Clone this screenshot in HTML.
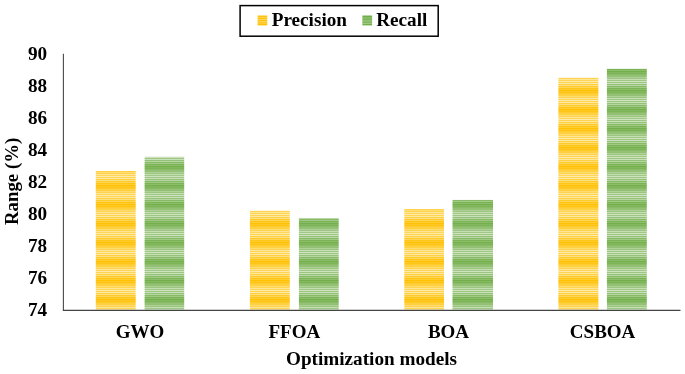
<!DOCTYPE html>
<html><head><meta charset="utf-8"><title>Precision and Recall</title>
<style>
html,body{margin:0;padding:0;background:#fff;}
body{width:685px;height:374px;overflow:hidden;}
svg{display:block}
text{font-family:"Liberation Serif",serif;font-weight:bold;font-size:19.2px;fill:#000;}
.cat text{font-size:19px;}
</style></head><body>
<svg width="685" height="374" viewBox="0 0 685 374">
<rect width="685" height="374" fill="#fff"/>
<g>
<g><rect x="95.8" y="171.00" width="39.9" height="1.00" fill="rgb(255,208,63)"/>
<rect x="95.8" y="172.00" width="39.9" height="1.00" fill="rgb(255,220,112)"/>
<rect x="95.8" y="173.00" width="39.9" height="1.00" fill="rgb(255,211,78)"/>
<rect x="95.8" y="174.00" width="39.9" height="1.00" fill="rgb(255,229,151)"/>
<rect x="95.8" y="175.00" width="39.9" height="1.00" fill="rgb(255,213,85)"/>
<rect x="95.8" y="176.00" width="39.9" height="1.00" fill="rgb(255,234,169)"/>
<rect x="95.8" y="177.00" width="39.9" height="1.00" fill="rgb(255,212,81)"/>
<rect x="95.8" y="178.00" width="39.9" height="1.00" fill="rgb(255,232,160)"/>
<rect x="95.8" y="179.00" width="39.9" height="1.00" fill="rgb(255,208,65)"/>
<rect x="95.8" y="180.00" width="39.9" height="1.00" fill="rgb(255,224,129)"/>
<rect x="95.8" y="181.00" width="39.9" height="1.00" fill="rgb(255,203,43)"/>
<rect x="95.8" y="182.00" width="39.9" height="1.00" fill="rgb(255,213,87)"/>
<rect x="95.8" y="183.00" width="39.9" height="1.00" fill="rgb(255,197,20)"/>
<rect x="95.8" y="184.00" width="39.9" height="1.00" fill="rgb(255,204,49)"/>
<rect x="95.8" y="185.00" width="39.9" height="1.00" fill="rgb(255,193,6)"/>
<rect x="95.8" y="186.00" width="39.9" height="1.00" fill="rgb(255,200,34)"/>
<rect x="95.8" y="187.00" width="39.9" height="1.00" fill="rgb(255,197,22)"/>
<rect x="95.8" y="188.00" width="39.9" height="1.00" fill="rgb(255,203,46)"/>
<rect x="95.8" y="189.00" width="39.9" height="1.00" fill="rgb(255,208,64)"/>
<rect x="95.8" y="190.00" width="39.9" height="1.00" fill="rgb(255,208,63)"/>
<rect x="95.8" y="191.00" width="39.9" height="1.00" fill="rgb(255,220,112)"/>
<rect x="95.8" y="192.00" width="39.9" height="1.00" fill="rgb(255,211,78)"/>
<rect x="95.8" y="193.00" width="39.9" height="1.00" fill="rgb(255,229,151)"/>
<rect x="95.8" y="194.00" width="39.9" height="1.00" fill="rgb(255,213,85)"/>
<rect x="95.8" y="195.00" width="39.9" height="1.00" fill="rgb(255,234,169)"/>
<rect x="95.8" y="196.00" width="39.9" height="1.00" fill="rgb(255,212,81)"/>
<rect x="95.8" y="197.00" width="39.9" height="1.00" fill="rgb(255,232,160)"/>
<rect x="95.8" y="198.00" width="39.9" height="1.00" fill="rgb(255,208,65)"/>
<rect x="95.8" y="199.00" width="39.9" height="1.00" fill="rgb(255,224,129)"/>
<rect x="95.8" y="200.00" width="39.9" height="1.00" fill="rgb(255,203,43)"/>
<rect x="95.8" y="201.00" width="39.9" height="1.00" fill="rgb(255,213,87)"/>
<rect x="95.8" y="202.00" width="39.9" height="1.00" fill="rgb(255,197,20)"/>
<rect x="95.8" y="203.00" width="39.9" height="1.00" fill="rgb(255,204,49)"/>
<rect x="95.8" y="204.00" width="39.9" height="1.00" fill="rgb(255,193,6)"/>
<rect x="95.8" y="205.00" width="39.9" height="1.00" fill="rgb(255,200,34)"/>
<rect x="95.8" y="206.00" width="39.9" height="1.00" fill="rgb(255,197,22)"/>
<rect x="95.8" y="207.00" width="39.9" height="1.00" fill="rgb(255,203,46)"/>
<rect x="95.8" y="208.00" width="39.9" height="1.00" fill="rgb(255,208,64)"/>
<rect x="95.8" y="209.00" width="39.9" height="1.00" fill="rgb(255,208,63)"/>
<rect x="95.8" y="210.00" width="39.9" height="1.00" fill="rgb(255,220,112)"/>
<rect x="95.8" y="211.00" width="39.9" height="1.00" fill="rgb(255,211,78)"/>
<rect x="95.8" y="212.00" width="39.9" height="1.00" fill="rgb(255,229,151)"/>
<rect x="95.8" y="213.00" width="39.9" height="1.00" fill="rgb(255,213,85)"/>
<rect x="95.8" y="214.00" width="39.9" height="1.00" fill="rgb(255,234,169)"/>
<rect x="95.8" y="215.00" width="39.9" height="1.00" fill="rgb(255,212,81)"/>
<rect x="95.8" y="216.00" width="39.9" height="1.00" fill="rgb(255,232,160)"/>
<rect x="95.8" y="217.00" width="39.9" height="1.00" fill="rgb(255,208,65)"/>
<rect x="95.8" y="218.00" width="39.9" height="1.00" fill="rgb(255,224,129)"/>
<rect x="95.8" y="219.00" width="39.9" height="1.00" fill="rgb(255,203,43)"/>
<rect x="95.8" y="220.00" width="39.9" height="1.00" fill="rgb(255,213,87)"/>
<rect x="95.8" y="221.00" width="39.9" height="1.00" fill="rgb(255,197,20)"/>
<rect x="95.8" y="222.00" width="39.9" height="1.00" fill="rgb(255,204,49)"/>
<rect x="95.8" y="223.00" width="39.9" height="1.00" fill="rgb(255,193,6)"/>
<rect x="95.8" y="224.00" width="39.9" height="1.00" fill="rgb(255,200,34)"/>
<rect x="95.8" y="225.00" width="39.9" height="1.00" fill="rgb(255,197,22)"/>
<rect x="95.8" y="226.00" width="39.9" height="1.00" fill="rgb(255,203,46)"/>
<rect x="95.8" y="227.00" width="39.9" height="1.00" fill="rgb(255,208,64)"/>
<rect x="95.8" y="228.00" width="39.9" height="1.00" fill="rgb(255,208,63)"/>
<rect x="95.8" y="229.00" width="39.9" height="1.00" fill="rgb(255,220,112)"/>
<rect x="95.8" y="230.00" width="39.9" height="1.00" fill="rgb(255,211,78)"/>
<rect x="95.8" y="231.00" width="39.9" height="1.00" fill="rgb(255,229,151)"/>
<rect x="95.8" y="232.00" width="39.9" height="1.00" fill="rgb(255,213,85)"/>
<rect x="95.8" y="233.00" width="39.9" height="1.00" fill="rgb(255,234,169)"/>
<rect x="95.8" y="234.00" width="39.9" height="1.00" fill="rgb(255,212,81)"/>
<rect x="95.8" y="235.00" width="39.9" height="1.00" fill="rgb(255,232,160)"/>
<rect x="95.8" y="236.00" width="39.9" height="1.00" fill="rgb(255,208,65)"/>
<rect x="95.8" y="237.00" width="39.9" height="1.00" fill="rgb(255,224,129)"/>
<rect x="95.8" y="238.00" width="39.9" height="1.00" fill="rgb(255,203,43)"/>
<rect x="95.8" y="239.00" width="39.9" height="1.00" fill="rgb(255,213,87)"/>
<rect x="95.8" y="240.00" width="39.9" height="1.00" fill="rgb(255,197,20)"/>
<rect x="95.8" y="241.00" width="39.9" height="1.00" fill="rgb(255,204,49)"/>
<rect x="95.8" y="242.00" width="39.9" height="1.00" fill="rgb(255,193,6)"/>
<rect x="95.8" y="243.00" width="39.9" height="1.00" fill="rgb(255,200,34)"/>
<rect x="95.8" y="244.00" width="39.9" height="1.00" fill="rgb(255,197,22)"/>
<rect x="95.8" y="245.00" width="39.9" height="1.00" fill="rgb(255,203,45)"/>
<rect x="95.8" y="246.00" width="39.9" height="1.00" fill="rgb(255,208,64)"/>
<rect x="95.8" y="247.00" width="39.9" height="1.00" fill="rgb(255,208,63)"/>
<rect x="95.8" y="248.00" width="39.9" height="1.00" fill="rgb(255,220,112)"/>
<rect x="95.8" y="249.00" width="39.9" height="1.00" fill="rgb(255,211,78)"/>
<rect x="95.8" y="250.00" width="39.9" height="1.00" fill="rgb(255,229,151)"/>
<rect x="95.8" y="251.00" width="39.9" height="1.00" fill="rgb(255,213,85)"/>
<rect x="95.8" y="252.00" width="39.9" height="1.00" fill="rgb(255,234,169)"/>
<rect x="95.8" y="253.00" width="39.9" height="1.00" fill="rgb(255,212,81)"/>
<rect x="95.8" y="254.00" width="39.9" height="1.00" fill="rgb(255,232,160)"/>
<rect x="95.8" y="255.00" width="39.9" height="1.00" fill="rgb(255,208,65)"/>
<rect x="95.8" y="256.00" width="39.9" height="1.00" fill="rgb(255,224,129)"/>
<rect x="95.8" y="257.00" width="39.9" height="1.00" fill="rgb(255,203,43)"/>
<rect x="95.8" y="258.00" width="39.9" height="1.00" fill="rgb(255,213,87)"/>
<rect x="95.8" y="259.00" width="39.9" height="1.00" fill="rgb(255,197,20)"/>
<rect x="95.8" y="260.00" width="39.9" height="1.00" fill="rgb(255,204,49)"/>
<rect x="95.8" y="261.00" width="39.9" height="1.00" fill="rgb(255,193,6)"/>
<rect x="95.8" y="262.00" width="39.9" height="1.00" fill="rgb(255,200,34)"/>
<rect x="95.8" y="263.00" width="39.9" height="1.00" fill="rgb(255,197,22)"/>
<rect x="95.8" y="264.00" width="39.9" height="1.00" fill="rgb(255,203,45)"/>
<rect x="95.8" y="265.00" width="39.9" height="1.00" fill="rgb(255,208,64)"/>
<rect x="95.8" y="266.00" width="39.9" height="1.00" fill="rgb(255,208,63)"/>
<rect x="95.8" y="267.00" width="39.9" height="1.00" fill="rgb(255,220,112)"/>
<rect x="95.8" y="268.00" width="39.9" height="1.00" fill="rgb(255,211,78)"/>
<rect x="95.8" y="269.00" width="39.9" height="1.00" fill="rgb(255,229,151)"/>
<rect x="95.8" y="270.00" width="39.9" height="1.00" fill="rgb(255,213,85)"/>
<rect x="95.8" y="271.00" width="39.9" height="1.00" fill="rgb(255,234,169)"/>
<rect x="95.8" y="272.00" width="39.9" height="1.00" fill="rgb(255,212,81)"/>
<rect x="95.8" y="273.00" width="39.9" height="1.00" fill="rgb(255,232,160)"/>
<rect x="95.8" y="274.00" width="39.9" height="1.00" fill="rgb(255,208,65)"/>
<rect x="95.8" y="275.00" width="39.9" height="1.00" fill="rgb(255,224,129)"/>
<rect x="95.8" y="276.00" width="39.9" height="1.00" fill="rgb(255,203,43)"/>
<rect x="95.8" y="277.00" width="39.9" height="1.00" fill="rgb(255,213,87)"/>
<rect x="95.8" y="278.00" width="39.9" height="1.00" fill="rgb(255,197,20)"/>
<rect x="95.8" y="279.00" width="39.9" height="1.00" fill="rgb(255,204,49)"/>
<rect x="95.8" y="280.00" width="39.9" height="1.00" fill="rgb(255,193,6)"/>
<rect x="95.8" y="281.00" width="39.9" height="1.00" fill="rgb(255,200,34)"/>
<rect x="95.8" y="282.00" width="39.9" height="1.00" fill="rgb(255,197,22)"/>
<rect x="95.8" y="283.00" width="39.9" height="1.00" fill="rgb(255,203,45)"/>
<rect x="95.8" y="284.00" width="39.9" height="1.00" fill="rgb(255,208,64)"/>
<rect x="95.8" y="285.00" width="39.9" height="1.00" fill="rgb(255,208,63)"/>
<rect x="95.8" y="286.00" width="39.9" height="1.00" fill="rgb(255,220,112)"/>
<rect x="95.8" y="287.00" width="39.9" height="1.00" fill="rgb(255,211,78)"/>
<rect x="95.8" y="288.00" width="39.9" height="1.00" fill="rgb(255,229,151)"/>
<rect x="95.8" y="289.00" width="39.9" height="1.00" fill="rgb(255,213,85)"/>
<rect x="95.8" y="290.00" width="39.9" height="1.00" fill="rgb(255,234,169)"/>
<rect x="95.8" y="291.00" width="39.9" height="1.00" fill="rgb(255,212,81)"/>
<rect x="95.8" y="292.00" width="39.9" height="1.00" fill="rgb(255,232,160)"/>
<rect x="95.8" y="293.00" width="39.9" height="1.00" fill="rgb(255,208,65)"/>
<rect x="95.8" y="294.00" width="39.9" height="1.00" fill="rgb(255,224,129)"/>
<rect x="95.8" y="295.00" width="39.9" height="1.00" fill="rgb(255,203,43)"/>
<rect x="95.8" y="296.00" width="39.9" height="1.00" fill="rgb(255,213,87)"/>
<rect x="95.8" y="297.00" width="39.9" height="1.00" fill="rgb(255,197,20)"/>
<rect x="95.8" y="298.00" width="39.9" height="1.00" fill="rgb(255,204,49)"/>
<rect x="95.8" y="299.00" width="39.9" height="1.00" fill="rgb(255,193,6)"/>
<rect x="95.8" y="300.00" width="39.9" height="1.00" fill="rgb(255,200,34)"/>
<rect x="95.8" y="301.00" width="39.9" height="1.00" fill="rgb(255,197,22)"/>
<rect x="95.8" y="302.00" width="39.9" height="1.00" fill="rgb(255,203,45)"/>
<rect x="95.8" y="303.00" width="39.9" height="1.00" fill="rgb(255,208,64)"/>
<rect x="95.8" y="304.00" width="39.9" height="1.00" fill="rgb(255,208,63)"/>
<rect x="95.8" y="305.00" width="39.9" height="1.00" fill="rgb(255,220,112)"/>
<rect x="95.8" y="306.00" width="39.9" height="1.00" fill="rgb(255,211,78)"/>
<rect x="95.8" y="307.00" width="39.9" height="1.00" fill="rgb(255,229,151)"/>
<rect x="95.8" y="308.00" width="39.9" height="1.00" fill="rgb(255,213,85)"/>
<rect x="95.8" y="309.00" width="39.9" height="1.00" fill="rgb(255,234,169)"/></g>
<g><rect x="144.6" y="156.80" width="39.6" height="0.20" fill="rgb(160,200,133)"/>
<rect x="144.6" y="157.00" width="39.6" height="1.00" fill="rgb(207,227,193)"/>
<rect x="144.6" y="158.00" width="39.6" height="1.00" fill="rgb(157,199,129)"/>
<rect x="144.6" y="159.00" width="39.6" height="1.00" fill="rgb(202,224,187)"/>
<rect x="144.6" y="160.00" width="39.6" height="1.00" fill="rgb(148,194,118)"/>
<rect x="144.6" y="161.00" width="39.6" height="1.00" fill="rgb(184,214,164)"/>
<rect x="144.6" y="162.00" width="39.6" height="1.00" fill="rgb(136,187,102)"/>
<rect x="144.6" y="163.00" width="39.6" height="1.00" fill="rgb(161,201,134)"/>
<rect x="144.6" y="164.00" width="39.6" height="1.00" fill="rgb(123,179,85)"/>
<rect x="144.6" y="165.00" width="39.6" height="1.00" fill="rgb(140,189,106)"/>
<rect x="144.6" y="166.00" width="39.6" height="1.00" fill="rgb(115,175,75)"/>
<rect x="144.6" y="167.00" width="39.6" height="1.00" fill="rgb(131,184,95)"/>
<rect x="144.6" y="168.00" width="39.6" height="1.00" fill="rgb(124,180,87)"/>
<rect x="144.6" y="169.00" width="39.6" height="1.00" fill="rgb(138,188,104)"/>
<rect x="144.6" y="170.00" width="39.6" height="1.00" fill="rgb(148,193,117)"/>
<rect x="144.6" y="171.00" width="39.6" height="1.00" fill="rgb(147,193,116)"/>
<rect x="144.6" y="172.00" width="39.6" height="1.00" fill="rgb(175,209,152)"/>
<rect x="144.6" y="173.00" width="39.6" height="1.00" fill="rgb(156,198,128)"/>
<rect x="144.6" y="174.00" width="39.6" height="1.00" fill="rgb(197,222,180)"/>
<rect x="144.6" y="175.00" width="39.6" height="1.00" fill="rgb(160,200,133)"/>
<rect x="144.6" y="176.00" width="39.6" height="1.00" fill="rgb(207,227,193)"/>
<rect x="144.6" y="177.00" width="39.6" height="1.00" fill="rgb(157,199,129)"/>
<rect x="144.6" y="178.00" width="39.6" height="1.00" fill="rgb(202,224,187)"/>
<rect x="144.6" y="179.00" width="39.6" height="1.00" fill="rgb(148,194,118)"/>
<rect x="144.6" y="180.00" width="39.6" height="1.00" fill="rgb(184,214,164)"/>
<rect x="144.6" y="181.00" width="39.6" height="1.00" fill="rgb(136,187,102)"/>
<rect x="144.6" y="182.00" width="39.6" height="1.00" fill="rgb(161,201,134)"/>
<rect x="144.6" y="183.00" width="39.6" height="1.00" fill="rgb(123,179,85)"/>
<rect x="144.6" y="184.00" width="39.6" height="1.00" fill="rgb(140,189,106)"/>
<rect x="144.6" y="185.00" width="39.6" height="1.00" fill="rgb(115,175,75)"/>
<rect x="144.6" y="186.00" width="39.6" height="1.00" fill="rgb(131,184,95)"/>
<rect x="144.6" y="187.00" width="39.6" height="1.00" fill="rgb(124,180,87)"/>
<rect x="144.6" y="188.00" width="39.6" height="1.00" fill="rgb(138,188,104)"/>
<rect x="144.6" y="189.00" width="39.6" height="1.00" fill="rgb(148,193,117)"/>
<rect x="144.6" y="190.00" width="39.6" height="1.00" fill="rgb(147,193,116)"/>
<rect x="144.6" y="191.00" width="39.6" height="1.00" fill="rgb(175,209,152)"/>
<rect x="144.6" y="192.00" width="39.6" height="1.00" fill="rgb(156,198,128)"/>
<rect x="144.6" y="193.00" width="39.6" height="1.00" fill="rgb(197,222,180)"/>
<rect x="144.6" y="194.00" width="39.6" height="1.00" fill="rgb(160,200,133)"/>
<rect x="144.6" y="195.00" width="39.6" height="1.00" fill="rgb(207,227,193)"/>
<rect x="144.6" y="196.00" width="39.6" height="1.00" fill="rgb(157,199,129)"/>
<rect x="144.6" y="197.00" width="39.6" height="1.00" fill="rgb(202,224,187)"/>
<rect x="144.6" y="198.00" width="39.6" height="1.00" fill="rgb(148,194,118)"/>
<rect x="144.6" y="199.00" width="39.6" height="1.00" fill="rgb(184,214,164)"/>
<rect x="144.6" y="200.00" width="39.6" height="1.00" fill="rgb(136,187,102)"/>
<rect x="144.6" y="201.00" width="39.6" height="1.00" fill="rgb(161,201,134)"/>
<rect x="144.6" y="202.00" width="39.6" height="1.00" fill="rgb(123,179,85)"/>
<rect x="144.6" y="203.00" width="39.6" height="1.00" fill="rgb(140,189,106)"/>
<rect x="144.6" y="204.00" width="39.6" height="1.00" fill="rgb(115,175,75)"/>
<rect x="144.6" y="205.00" width="39.6" height="1.00" fill="rgb(131,184,95)"/>
<rect x="144.6" y="206.00" width="39.6" height="1.00" fill="rgb(124,180,87)"/>
<rect x="144.6" y="207.00" width="39.6" height="1.00" fill="rgb(138,188,104)"/>
<rect x="144.6" y="208.00" width="39.6" height="1.00" fill="rgb(148,193,117)"/>
<rect x="144.6" y="209.00" width="39.6" height="1.00" fill="rgb(147,193,116)"/>
<rect x="144.6" y="210.00" width="39.6" height="1.00" fill="rgb(175,209,152)"/>
<rect x="144.6" y="211.00" width="39.6" height="1.00" fill="rgb(156,198,128)"/>
<rect x="144.6" y="212.00" width="39.6" height="1.00" fill="rgb(197,222,180)"/>
<rect x="144.6" y="213.00" width="39.6" height="1.00" fill="rgb(160,200,133)"/>
<rect x="144.6" y="214.00" width="39.6" height="1.00" fill="rgb(207,227,193)"/>
<rect x="144.6" y="215.00" width="39.6" height="1.00" fill="rgb(157,199,129)"/>
<rect x="144.6" y="216.00" width="39.6" height="1.00" fill="rgb(202,224,187)"/>
<rect x="144.6" y="217.00" width="39.6" height="1.00" fill="rgb(148,194,118)"/>
<rect x="144.6" y="218.00" width="39.6" height="1.00" fill="rgb(184,214,164)"/>
<rect x="144.6" y="219.00" width="39.6" height="1.00" fill="rgb(136,187,102)"/>
<rect x="144.6" y="220.00" width="39.6" height="1.00" fill="rgb(161,201,134)"/>
<rect x="144.6" y="221.00" width="39.6" height="1.00" fill="rgb(123,179,85)"/>
<rect x="144.6" y="222.00" width="39.6" height="1.00" fill="rgb(140,189,106)"/>
<rect x="144.6" y="223.00" width="39.6" height="1.00" fill="rgb(115,175,75)"/>
<rect x="144.6" y="224.00" width="39.6" height="1.00" fill="rgb(131,184,95)"/>
<rect x="144.6" y="225.00" width="39.6" height="1.00" fill="rgb(124,180,87)"/>
<rect x="144.6" y="226.00" width="39.6" height="1.00" fill="rgb(138,188,104)"/>
<rect x="144.6" y="227.00" width="39.6" height="1.00" fill="rgb(148,193,117)"/>
<rect x="144.6" y="228.00" width="39.6" height="1.00" fill="rgb(147,193,116)"/>
<rect x="144.6" y="229.00" width="39.6" height="1.00" fill="rgb(175,209,152)"/>
<rect x="144.6" y="230.00" width="39.6" height="1.00" fill="rgb(156,198,128)"/>
<rect x="144.6" y="231.00" width="39.6" height="1.00" fill="rgb(197,222,180)"/>
<rect x="144.6" y="232.00" width="39.6" height="1.00" fill="rgb(160,200,133)"/>
<rect x="144.6" y="233.00" width="39.6" height="1.00" fill="rgb(207,227,193)"/>
<rect x="144.6" y="234.00" width="39.6" height="1.00" fill="rgb(157,199,129)"/>
<rect x="144.6" y="235.00" width="39.6" height="1.00" fill="rgb(202,224,187)"/>
<rect x="144.6" y="236.00" width="39.6" height="1.00" fill="rgb(148,194,118)"/>
<rect x="144.6" y="237.00" width="39.6" height="1.00" fill="rgb(184,214,164)"/>
<rect x="144.6" y="238.00" width="39.6" height="1.00" fill="rgb(136,187,102)"/>
<rect x="144.6" y="239.00" width="39.6" height="1.00" fill="rgb(161,201,134)"/>
<rect x="144.6" y="240.00" width="39.6" height="1.00" fill="rgb(123,179,85)"/>
<rect x="144.6" y="241.00" width="39.6" height="1.00" fill="rgb(140,189,106)"/>
<rect x="144.6" y="242.00" width="39.6" height="1.00" fill="rgb(115,175,75)"/>
<rect x="144.6" y="243.00" width="39.6" height="1.00" fill="rgb(131,184,95)"/>
<rect x="144.6" y="244.00" width="39.6" height="1.00" fill="rgb(124,180,87)"/>
<rect x="144.6" y="245.00" width="39.6" height="1.00" fill="rgb(138,188,104)"/>
<rect x="144.6" y="246.00" width="39.6" height="1.00" fill="rgb(148,193,117)"/>
<rect x="144.6" y="247.00" width="39.6" height="1.00" fill="rgb(147,193,116)"/>
<rect x="144.6" y="248.00" width="39.6" height="1.00" fill="rgb(175,209,152)"/>
<rect x="144.6" y="249.00" width="39.6" height="1.00" fill="rgb(156,198,128)"/>
<rect x="144.6" y="250.00" width="39.6" height="1.00" fill="rgb(197,222,180)"/>
<rect x="144.6" y="251.00" width="39.6" height="1.00" fill="rgb(160,200,133)"/>
<rect x="144.6" y="252.00" width="39.6" height="1.00" fill="rgb(207,227,193)"/>
<rect x="144.6" y="253.00" width="39.6" height="1.00" fill="rgb(157,199,129)"/>
<rect x="144.6" y="254.00" width="39.6" height="1.00" fill="rgb(202,224,187)"/>
<rect x="144.6" y="255.00" width="39.6" height="1.00" fill="rgb(148,194,118)"/>
<rect x="144.6" y="256.00" width="39.6" height="1.00" fill="rgb(184,214,164)"/>
<rect x="144.6" y="257.00" width="39.6" height="1.00" fill="rgb(136,187,102)"/>
<rect x="144.6" y="258.00" width="39.6" height="1.00" fill="rgb(161,201,134)"/>
<rect x="144.6" y="259.00" width="39.6" height="1.00" fill="rgb(123,179,85)"/>
<rect x="144.6" y="260.00" width="39.6" height="1.00" fill="rgb(140,189,106)"/>
<rect x="144.6" y="261.00" width="39.6" height="1.00" fill="rgb(115,175,75)"/>
<rect x="144.6" y="262.00" width="39.6" height="1.00" fill="rgb(131,184,95)"/>
<rect x="144.6" y="263.00" width="39.6" height="1.00" fill="rgb(124,180,87)"/>
<rect x="144.6" y="264.00" width="39.6" height="1.00" fill="rgb(138,188,104)"/>
<rect x="144.6" y="265.00" width="39.6" height="1.00" fill="rgb(148,193,117)"/>
<rect x="144.6" y="266.00" width="39.6" height="1.00" fill="rgb(147,193,116)"/>
<rect x="144.6" y="267.00" width="39.6" height="1.00" fill="rgb(175,209,152)"/>
<rect x="144.6" y="268.00" width="39.6" height="1.00" fill="rgb(156,198,128)"/>
<rect x="144.6" y="269.00" width="39.6" height="1.00" fill="rgb(197,222,180)"/>
<rect x="144.6" y="270.00" width="39.6" height="1.00" fill="rgb(160,200,133)"/>
<rect x="144.6" y="271.00" width="39.6" height="1.00" fill="rgb(207,227,193)"/>
<rect x="144.6" y="272.00" width="39.6" height="1.00" fill="rgb(157,199,129)"/>
<rect x="144.6" y="273.00" width="39.6" height="1.00" fill="rgb(202,224,187)"/>
<rect x="144.6" y="274.00" width="39.6" height="1.00" fill="rgb(148,194,118)"/>
<rect x="144.6" y="275.00" width="39.6" height="1.00" fill="rgb(184,214,164)"/>
<rect x="144.6" y="276.00" width="39.6" height="1.00" fill="rgb(136,187,102)"/>
<rect x="144.6" y="277.00" width="39.6" height="1.00" fill="rgb(161,201,134)"/>
<rect x="144.6" y="278.00" width="39.6" height="1.00" fill="rgb(123,179,85)"/>
<rect x="144.6" y="279.00" width="39.6" height="1.00" fill="rgb(140,189,106)"/>
<rect x="144.6" y="280.00" width="39.6" height="1.00" fill="rgb(115,175,75)"/>
<rect x="144.6" y="281.00" width="39.6" height="1.00" fill="rgb(131,184,95)"/>
<rect x="144.6" y="282.00" width="39.6" height="1.00" fill="rgb(124,180,87)"/>
<rect x="144.6" y="283.00" width="39.6" height="1.00" fill="rgb(138,188,104)"/>
<rect x="144.6" y="284.00" width="39.6" height="1.00" fill="rgb(148,193,117)"/>
<rect x="144.6" y="285.00" width="39.6" height="1.00" fill="rgb(147,193,116)"/>
<rect x="144.6" y="286.00" width="39.6" height="1.00" fill="rgb(175,209,152)"/>
<rect x="144.6" y="287.00" width="39.6" height="1.00" fill="rgb(156,198,128)"/>
<rect x="144.6" y="288.00" width="39.6" height="1.00" fill="rgb(197,222,180)"/>
<rect x="144.6" y="289.00" width="39.6" height="1.00" fill="rgb(160,200,133)"/>
<rect x="144.6" y="290.00" width="39.6" height="1.00" fill="rgb(207,227,193)"/>
<rect x="144.6" y="291.00" width="39.6" height="1.00" fill="rgb(157,199,129)"/>
<rect x="144.6" y="292.00" width="39.6" height="1.00" fill="rgb(202,224,187)"/>
<rect x="144.6" y="293.00" width="39.6" height="1.00" fill="rgb(148,194,118)"/>
<rect x="144.6" y="294.00" width="39.6" height="1.00" fill="rgb(184,214,164)"/>
<rect x="144.6" y="295.00" width="39.6" height="1.00" fill="rgb(136,187,102)"/>
<rect x="144.6" y="296.00" width="39.6" height="1.00" fill="rgb(161,201,134)"/>
<rect x="144.6" y="297.00" width="39.6" height="1.00" fill="rgb(123,179,85)"/>
<rect x="144.6" y="298.00" width="39.6" height="1.00" fill="rgb(140,189,106)"/>
<rect x="144.6" y="299.00" width="39.6" height="1.00" fill="rgb(115,175,75)"/>
<rect x="144.6" y="300.00" width="39.6" height="1.00" fill="rgb(131,184,95)"/>
<rect x="144.6" y="301.00" width="39.6" height="1.00" fill="rgb(124,180,87)"/>
<rect x="144.6" y="302.00" width="39.6" height="1.00" fill="rgb(138,188,104)"/>
<rect x="144.6" y="303.00" width="39.6" height="1.00" fill="rgb(148,193,117)"/>
<rect x="144.6" y="304.00" width="39.6" height="1.00" fill="rgb(147,193,116)"/>
<rect x="144.6" y="305.00" width="39.6" height="1.00" fill="rgb(175,209,152)"/>
<rect x="144.6" y="306.00" width="39.6" height="1.00" fill="rgb(156,198,128)"/>
<rect x="144.6" y="307.00" width="39.6" height="1.00" fill="rgb(197,222,180)"/>
<rect x="144.6" y="308.00" width="39.6" height="1.00" fill="rgb(160,200,133)"/>
<rect x="144.6" y="309.00" width="39.6" height="1.00" fill="rgb(207,227,193)"/></g>
<g><rect x="249.9" y="210.80" width="39.9" height="0.20" fill="rgb(255,220,112)"/>
<rect x="249.9" y="211.00" width="39.9" height="1.00" fill="rgb(255,211,78)"/>
<rect x="249.9" y="212.00" width="39.9" height="1.00" fill="rgb(255,229,151)"/>
<rect x="249.9" y="213.00" width="39.9" height="1.00" fill="rgb(255,213,85)"/>
<rect x="249.9" y="214.00" width="39.9" height="1.00" fill="rgb(255,234,169)"/>
<rect x="249.9" y="215.00" width="39.9" height="1.00" fill="rgb(255,212,81)"/>
<rect x="249.9" y="216.00" width="39.9" height="1.00" fill="rgb(255,232,160)"/>
<rect x="249.9" y="217.00" width="39.9" height="1.00" fill="rgb(255,208,65)"/>
<rect x="249.9" y="218.00" width="39.9" height="1.00" fill="rgb(255,224,129)"/>
<rect x="249.9" y="219.00" width="39.9" height="1.00" fill="rgb(255,203,43)"/>
<rect x="249.9" y="220.00" width="39.9" height="1.00" fill="rgb(255,213,87)"/>
<rect x="249.9" y="221.00" width="39.9" height="1.00" fill="rgb(255,197,20)"/>
<rect x="249.9" y="222.00" width="39.9" height="1.00" fill="rgb(255,204,49)"/>
<rect x="249.9" y="223.00" width="39.9" height="1.00" fill="rgb(255,193,6)"/>
<rect x="249.9" y="224.00" width="39.9" height="1.00" fill="rgb(255,200,34)"/>
<rect x="249.9" y="225.00" width="39.9" height="1.00" fill="rgb(255,197,22)"/>
<rect x="249.9" y="226.00" width="39.9" height="1.00" fill="rgb(255,203,46)"/>
<rect x="249.9" y="227.00" width="39.9" height="1.00" fill="rgb(255,208,64)"/>
<rect x="249.9" y="228.00" width="39.9" height="1.00" fill="rgb(255,208,63)"/>
<rect x="249.9" y="229.00" width="39.9" height="1.00" fill="rgb(255,220,112)"/>
<rect x="249.9" y="230.00" width="39.9" height="1.00" fill="rgb(255,211,78)"/>
<rect x="249.9" y="231.00" width="39.9" height="1.00" fill="rgb(255,229,151)"/>
<rect x="249.9" y="232.00" width="39.9" height="1.00" fill="rgb(255,213,85)"/>
<rect x="249.9" y="233.00" width="39.9" height="1.00" fill="rgb(255,234,169)"/>
<rect x="249.9" y="234.00" width="39.9" height="1.00" fill="rgb(255,212,81)"/>
<rect x="249.9" y="235.00" width="39.9" height="1.00" fill="rgb(255,232,160)"/>
<rect x="249.9" y="236.00" width="39.9" height="1.00" fill="rgb(255,208,65)"/>
<rect x="249.9" y="237.00" width="39.9" height="1.00" fill="rgb(255,224,129)"/>
<rect x="249.9" y="238.00" width="39.9" height="1.00" fill="rgb(255,203,43)"/>
<rect x="249.9" y="239.00" width="39.9" height="1.00" fill="rgb(255,213,87)"/>
<rect x="249.9" y="240.00" width="39.9" height="1.00" fill="rgb(255,197,20)"/>
<rect x="249.9" y="241.00" width="39.9" height="1.00" fill="rgb(255,204,49)"/>
<rect x="249.9" y="242.00" width="39.9" height="1.00" fill="rgb(255,193,6)"/>
<rect x="249.9" y="243.00" width="39.9" height="1.00" fill="rgb(255,200,34)"/>
<rect x="249.9" y="244.00" width="39.9" height="1.00" fill="rgb(255,197,22)"/>
<rect x="249.9" y="245.00" width="39.9" height="1.00" fill="rgb(255,203,45)"/>
<rect x="249.9" y="246.00" width="39.9" height="1.00" fill="rgb(255,208,64)"/>
<rect x="249.9" y="247.00" width="39.9" height="1.00" fill="rgb(255,208,63)"/>
<rect x="249.9" y="248.00" width="39.9" height="1.00" fill="rgb(255,220,112)"/>
<rect x="249.9" y="249.00" width="39.9" height="1.00" fill="rgb(255,211,78)"/>
<rect x="249.9" y="250.00" width="39.9" height="1.00" fill="rgb(255,229,151)"/>
<rect x="249.9" y="251.00" width="39.9" height="1.00" fill="rgb(255,213,85)"/>
<rect x="249.9" y="252.00" width="39.9" height="1.00" fill="rgb(255,234,169)"/>
<rect x="249.9" y="253.00" width="39.9" height="1.00" fill="rgb(255,212,81)"/>
<rect x="249.9" y="254.00" width="39.9" height="1.00" fill="rgb(255,232,160)"/>
<rect x="249.9" y="255.00" width="39.9" height="1.00" fill="rgb(255,208,65)"/>
<rect x="249.9" y="256.00" width="39.9" height="1.00" fill="rgb(255,224,129)"/>
<rect x="249.9" y="257.00" width="39.9" height="1.00" fill="rgb(255,203,43)"/>
<rect x="249.9" y="258.00" width="39.9" height="1.00" fill="rgb(255,213,87)"/>
<rect x="249.9" y="259.00" width="39.9" height="1.00" fill="rgb(255,197,20)"/>
<rect x="249.9" y="260.00" width="39.9" height="1.00" fill="rgb(255,204,49)"/>
<rect x="249.9" y="261.00" width="39.9" height="1.00" fill="rgb(255,193,6)"/>
<rect x="249.9" y="262.00" width="39.9" height="1.00" fill="rgb(255,200,34)"/>
<rect x="249.9" y="263.00" width="39.9" height="1.00" fill="rgb(255,197,22)"/>
<rect x="249.9" y="264.00" width="39.9" height="1.00" fill="rgb(255,203,45)"/>
<rect x="249.9" y="265.00" width="39.9" height="1.00" fill="rgb(255,208,64)"/>
<rect x="249.9" y="266.00" width="39.9" height="1.00" fill="rgb(255,208,63)"/>
<rect x="249.9" y="267.00" width="39.9" height="1.00" fill="rgb(255,220,112)"/>
<rect x="249.9" y="268.00" width="39.9" height="1.00" fill="rgb(255,211,78)"/>
<rect x="249.9" y="269.00" width="39.9" height="1.00" fill="rgb(255,229,151)"/>
<rect x="249.9" y="270.00" width="39.9" height="1.00" fill="rgb(255,213,85)"/>
<rect x="249.9" y="271.00" width="39.9" height="1.00" fill="rgb(255,234,169)"/>
<rect x="249.9" y="272.00" width="39.9" height="1.00" fill="rgb(255,212,81)"/>
<rect x="249.9" y="273.00" width="39.9" height="1.00" fill="rgb(255,232,160)"/>
<rect x="249.9" y="274.00" width="39.9" height="1.00" fill="rgb(255,208,65)"/>
<rect x="249.9" y="275.00" width="39.9" height="1.00" fill="rgb(255,224,129)"/>
<rect x="249.9" y="276.00" width="39.9" height="1.00" fill="rgb(255,203,43)"/>
<rect x="249.9" y="277.00" width="39.9" height="1.00" fill="rgb(255,213,87)"/>
<rect x="249.9" y="278.00" width="39.9" height="1.00" fill="rgb(255,197,20)"/>
<rect x="249.9" y="279.00" width="39.9" height="1.00" fill="rgb(255,204,49)"/>
<rect x="249.9" y="280.00" width="39.9" height="1.00" fill="rgb(255,193,6)"/>
<rect x="249.9" y="281.00" width="39.9" height="1.00" fill="rgb(255,200,34)"/>
<rect x="249.9" y="282.00" width="39.9" height="1.00" fill="rgb(255,197,22)"/>
<rect x="249.9" y="283.00" width="39.9" height="1.00" fill="rgb(255,203,45)"/>
<rect x="249.9" y="284.00" width="39.9" height="1.00" fill="rgb(255,208,64)"/>
<rect x="249.9" y="285.00" width="39.9" height="1.00" fill="rgb(255,208,63)"/>
<rect x="249.9" y="286.00" width="39.9" height="1.00" fill="rgb(255,220,112)"/>
<rect x="249.9" y="287.00" width="39.9" height="1.00" fill="rgb(255,211,78)"/>
<rect x="249.9" y="288.00" width="39.9" height="1.00" fill="rgb(255,229,151)"/>
<rect x="249.9" y="289.00" width="39.9" height="1.00" fill="rgb(255,213,85)"/>
<rect x="249.9" y="290.00" width="39.9" height="1.00" fill="rgb(255,234,169)"/>
<rect x="249.9" y="291.00" width="39.9" height="1.00" fill="rgb(255,212,81)"/>
<rect x="249.9" y="292.00" width="39.9" height="1.00" fill="rgb(255,232,160)"/>
<rect x="249.9" y="293.00" width="39.9" height="1.00" fill="rgb(255,208,65)"/>
<rect x="249.9" y="294.00" width="39.9" height="1.00" fill="rgb(255,224,129)"/>
<rect x="249.9" y="295.00" width="39.9" height="1.00" fill="rgb(255,203,43)"/>
<rect x="249.9" y="296.00" width="39.9" height="1.00" fill="rgb(255,213,87)"/>
<rect x="249.9" y="297.00" width="39.9" height="1.00" fill="rgb(255,197,20)"/>
<rect x="249.9" y="298.00" width="39.9" height="1.00" fill="rgb(255,204,49)"/>
<rect x="249.9" y="299.00" width="39.9" height="1.00" fill="rgb(255,193,6)"/>
<rect x="249.9" y="300.00" width="39.9" height="1.00" fill="rgb(255,200,34)"/>
<rect x="249.9" y="301.00" width="39.9" height="1.00" fill="rgb(255,197,22)"/>
<rect x="249.9" y="302.00" width="39.9" height="1.00" fill="rgb(255,203,45)"/>
<rect x="249.9" y="303.00" width="39.9" height="1.00" fill="rgb(255,208,64)"/>
<rect x="249.9" y="304.00" width="39.9" height="1.00" fill="rgb(255,208,63)"/>
<rect x="249.9" y="305.00" width="39.9" height="1.00" fill="rgb(255,220,112)"/>
<rect x="249.9" y="306.00" width="39.9" height="1.00" fill="rgb(255,211,78)"/>
<rect x="249.9" y="307.00" width="39.9" height="1.00" fill="rgb(255,229,151)"/>
<rect x="249.9" y="308.00" width="39.9" height="1.00" fill="rgb(255,213,85)"/>
<rect x="249.9" y="309.00" width="39.9" height="1.00" fill="rgb(255,234,169)"/></g>
<g><rect x="298.9" y="218.00" width="39.8" height="1.00" fill="rgb(184,214,164)"/>
<rect x="298.9" y="219.00" width="39.8" height="1.00" fill="rgb(136,187,102)"/>
<rect x="298.9" y="220.00" width="39.8" height="1.00" fill="rgb(161,201,134)"/>
<rect x="298.9" y="221.00" width="39.8" height="1.00" fill="rgb(123,179,85)"/>
<rect x="298.9" y="222.00" width="39.8" height="1.00" fill="rgb(140,189,106)"/>
<rect x="298.9" y="223.00" width="39.8" height="1.00" fill="rgb(115,175,75)"/>
<rect x="298.9" y="224.00" width="39.8" height="1.00" fill="rgb(131,184,95)"/>
<rect x="298.9" y="225.00" width="39.8" height="1.00" fill="rgb(124,180,87)"/>
<rect x="298.9" y="226.00" width="39.8" height="1.00" fill="rgb(138,188,104)"/>
<rect x="298.9" y="227.00" width="39.8" height="1.00" fill="rgb(148,193,117)"/>
<rect x="298.9" y="228.00" width="39.8" height="1.00" fill="rgb(147,193,116)"/>
<rect x="298.9" y="229.00" width="39.8" height="1.00" fill="rgb(175,209,152)"/>
<rect x="298.9" y="230.00" width="39.8" height="1.00" fill="rgb(156,198,128)"/>
<rect x="298.9" y="231.00" width="39.8" height="1.00" fill="rgb(197,222,180)"/>
<rect x="298.9" y="232.00" width="39.8" height="1.00" fill="rgb(160,200,133)"/>
<rect x="298.9" y="233.00" width="39.8" height="1.00" fill="rgb(207,227,193)"/>
<rect x="298.9" y="234.00" width="39.8" height="1.00" fill="rgb(157,199,129)"/>
<rect x="298.9" y="235.00" width="39.8" height="1.00" fill="rgb(202,224,187)"/>
<rect x="298.9" y="236.00" width="39.8" height="1.00" fill="rgb(148,194,118)"/>
<rect x="298.9" y="237.00" width="39.8" height="1.00" fill="rgb(184,214,164)"/>
<rect x="298.9" y="238.00" width="39.8" height="1.00" fill="rgb(136,187,102)"/>
<rect x="298.9" y="239.00" width="39.8" height="1.00" fill="rgb(161,201,134)"/>
<rect x="298.9" y="240.00" width="39.8" height="1.00" fill="rgb(123,179,85)"/>
<rect x="298.9" y="241.00" width="39.8" height="1.00" fill="rgb(140,189,106)"/>
<rect x="298.9" y="242.00" width="39.8" height="1.00" fill="rgb(115,175,75)"/>
<rect x="298.9" y="243.00" width="39.8" height="1.00" fill="rgb(131,184,95)"/>
<rect x="298.9" y="244.00" width="39.8" height="1.00" fill="rgb(124,180,87)"/>
<rect x="298.9" y="245.00" width="39.8" height="1.00" fill="rgb(138,188,104)"/>
<rect x="298.9" y="246.00" width="39.8" height="1.00" fill="rgb(148,193,117)"/>
<rect x="298.9" y="247.00" width="39.8" height="1.00" fill="rgb(147,193,116)"/>
<rect x="298.9" y="248.00" width="39.8" height="1.00" fill="rgb(175,209,152)"/>
<rect x="298.9" y="249.00" width="39.8" height="1.00" fill="rgb(156,198,128)"/>
<rect x="298.9" y="250.00" width="39.8" height="1.00" fill="rgb(197,222,180)"/>
<rect x="298.9" y="251.00" width="39.8" height="1.00" fill="rgb(160,200,133)"/>
<rect x="298.9" y="252.00" width="39.8" height="1.00" fill="rgb(207,227,193)"/>
<rect x="298.9" y="253.00" width="39.8" height="1.00" fill="rgb(157,199,129)"/>
<rect x="298.9" y="254.00" width="39.8" height="1.00" fill="rgb(202,224,187)"/>
<rect x="298.9" y="255.00" width="39.8" height="1.00" fill="rgb(148,194,118)"/>
<rect x="298.9" y="256.00" width="39.8" height="1.00" fill="rgb(184,214,164)"/>
<rect x="298.9" y="257.00" width="39.8" height="1.00" fill="rgb(136,187,102)"/>
<rect x="298.9" y="258.00" width="39.8" height="1.00" fill="rgb(161,201,134)"/>
<rect x="298.9" y="259.00" width="39.8" height="1.00" fill="rgb(123,179,85)"/>
<rect x="298.9" y="260.00" width="39.8" height="1.00" fill="rgb(140,189,106)"/>
<rect x="298.9" y="261.00" width="39.8" height="1.00" fill="rgb(115,175,75)"/>
<rect x="298.9" y="262.00" width="39.8" height="1.00" fill="rgb(131,184,95)"/>
<rect x="298.9" y="263.00" width="39.8" height="1.00" fill="rgb(124,180,87)"/>
<rect x="298.9" y="264.00" width="39.8" height="1.00" fill="rgb(138,188,104)"/>
<rect x="298.9" y="265.00" width="39.8" height="1.00" fill="rgb(148,193,117)"/>
<rect x="298.9" y="266.00" width="39.8" height="1.00" fill="rgb(147,193,116)"/>
<rect x="298.9" y="267.00" width="39.8" height="1.00" fill="rgb(175,209,152)"/>
<rect x="298.9" y="268.00" width="39.8" height="1.00" fill="rgb(156,198,128)"/>
<rect x="298.9" y="269.00" width="39.8" height="1.00" fill="rgb(197,222,180)"/>
<rect x="298.9" y="270.00" width="39.8" height="1.00" fill="rgb(160,200,133)"/>
<rect x="298.9" y="271.00" width="39.8" height="1.00" fill="rgb(207,227,193)"/>
<rect x="298.9" y="272.00" width="39.8" height="1.00" fill="rgb(157,199,129)"/>
<rect x="298.9" y="273.00" width="39.8" height="1.00" fill="rgb(202,224,187)"/>
<rect x="298.9" y="274.00" width="39.8" height="1.00" fill="rgb(148,194,118)"/>
<rect x="298.9" y="275.00" width="39.8" height="1.00" fill="rgb(184,214,164)"/>
<rect x="298.9" y="276.00" width="39.8" height="1.00" fill="rgb(136,187,102)"/>
<rect x="298.9" y="277.00" width="39.8" height="1.00" fill="rgb(161,201,134)"/>
<rect x="298.9" y="278.00" width="39.8" height="1.00" fill="rgb(123,179,85)"/>
<rect x="298.9" y="279.00" width="39.8" height="1.00" fill="rgb(140,189,106)"/>
<rect x="298.9" y="280.00" width="39.8" height="1.00" fill="rgb(115,175,75)"/>
<rect x="298.9" y="281.00" width="39.8" height="1.00" fill="rgb(131,184,95)"/>
<rect x="298.9" y="282.00" width="39.8" height="1.00" fill="rgb(124,180,87)"/>
<rect x="298.9" y="283.00" width="39.8" height="1.00" fill="rgb(138,188,104)"/>
<rect x="298.9" y="284.00" width="39.8" height="1.00" fill="rgb(148,193,117)"/>
<rect x="298.9" y="285.00" width="39.8" height="1.00" fill="rgb(147,193,116)"/>
<rect x="298.9" y="286.00" width="39.8" height="1.00" fill="rgb(175,209,152)"/>
<rect x="298.9" y="287.00" width="39.8" height="1.00" fill="rgb(156,198,128)"/>
<rect x="298.9" y="288.00" width="39.8" height="1.00" fill="rgb(197,222,180)"/>
<rect x="298.9" y="289.00" width="39.8" height="1.00" fill="rgb(160,200,133)"/>
<rect x="298.9" y="290.00" width="39.8" height="1.00" fill="rgb(207,227,193)"/>
<rect x="298.9" y="291.00" width="39.8" height="1.00" fill="rgb(157,199,129)"/>
<rect x="298.9" y="292.00" width="39.8" height="1.00" fill="rgb(202,224,187)"/>
<rect x="298.9" y="293.00" width="39.8" height="1.00" fill="rgb(148,194,118)"/>
<rect x="298.9" y="294.00" width="39.8" height="1.00" fill="rgb(184,214,164)"/>
<rect x="298.9" y="295.00" width="39.8" height="1.00" fill="rgb(136,187,102)"/>
<rect x="298.9" y="296.00" width="39.8" height="1.00" fill="rgb(161,201,134)"/>
<rect x="298.9" y="297.00" width="39.8" height="1.00" fill="rgb(123,179,85)"/>
<rect x="298.9" y="298.00" width="39.8" height="1.00" fill="rgb(140,189,106)"/>
<rect x="298.9" y="299.00" width="39.8" height="1.00" fill="rgb(115,175,75)"/>
<rect x="298.9" y="300.00" width="39.8" height="1.00" fill="rgb(131,184,95)"/>
<rect x="298.9" y="301.00" width="39.8" height="1.00" fill="rgb(124,180,87)"/>
<rect x="298.9" y="302.00" width="39.8" height="1.00" fill="rgb(138,188,104)"/>
<rect x="298.9" y="303.00" width="39.8" height="1.00" fill="rgb(148,193,117)"/>
<rect x="298.9" y="304.00" width="39.8" height="1.00" fill="rgb(147,193,116)"/>
<rect x="298.9" y="305.00" width="39.8" height="1.00" fill="rgb(175,209,152)"/>
<rect x="298.9" y="306.00" width="39.8" height="1.00" fill="rgb(156,198,128)"/>
<rect x="298.9" y="307.00" width="39.8" height="1.00" fill="rgb(197,222,180)"/>
<rect x="298.9" y="308.00" width="39.8" height="1.00" fill="rgb(160,200,133)"/>
<rect x="298.9" y="309.00" width="39.8" height="1.00" fill="rgb(207,227,193)"/></g>
<g><rect x="404.3" y="209.10" width="39.7" height="0.90" fill="rgb(255,208,63)"/>
<rect x="404.3" y="210.00" width="39.7" height="1.00" fill="rgb(255,220,112)"/>
<rect x="404.3" y="211.00" width="39.7" height="1.00" fill="rgb(255,211,78)"/>
<rect x="404.3" y="212.00" width="39.7" height="1.00" fill="rgb(255,229,151)"/>
<rect x="404.3" y="213.00" width="39.7" height="1.00" fill="rgb(255,213,85)"/>
<rect x="404.3" y="214.00" width="39.7" height="1.00" fill="rgb(255,234,169)"/>
<rect x="404.3" y="215.00" width="39.7" height="1.00" fill="rgb(255,212,81)"/>
<rect x="404.3" y="216.00" width="39.7" height="1.00" fill="rgb(255,232,160)"/>
<rect x="404.3" y="217.00" width="39.7" height="1.00" fill="rgb(255,208,65)"/>
<rect x="404.3" y="218.00" width="39.7" height="1.00" fill="rgb(255,224,129)"/>
<rect x="404.3" y="219.00" width="39.7" height="1.00" fill="rgb(255,203,43)"/>
<rect x="404.3" y="220.00" width="39.7" height="1.00" fill="rgb(255,213,87)"/>
<rect x="404.3" y="221.00" width="39.7" height="1.00" fill="rgb(255,197,20)"/>
<rect x="404.3" y="222.00" width="39.7" height="1.00" fill="rgb(255,204,49)"/>
<rect x="404.3" y="223.00" width="39.7" height="1.00" fill="rgb(255,193,6)"/>
<rect x="404.3" y="224.00" width="39.7" height="1.00" fill="rgb(255,200,34)"/>
<rect x="404.3" y="225.00" width="39.7" height="1.00" fill="rgb(255,197,22)"/>
<rect x="404.3" y="226.00" width="39.7" height="1.00" fill="rgb(255,203,46)"/>
<rect x="404.3" y="227.00" width="39.7" height="1.00" fill="rgb(255,208,64)"/>
<rect x="404.3" y="228.00" width="39.7" height="1.00" fill="rgb(255,208,63)"/>
<rect x="404.3" y="229.00" width="39.7" height="1.00" fill="rgb(255,220,112)"/>
<rect x="404.3" y="230.00" width="39.7" height="1.00" fill="rgb(255,211,78)"/>
<rect x="404.3" y="231.00" width="39.7" height="1.00" fill="rgb(255,229,151)"/>
<rect x="404.3" y="232.00" width="39.7" height="1.00" fill="rgb(255,213,85)"/>
<rect x="404.3" y="233.00" width="39.7" height="1.00" fill="rgb(255,234,169)"/>
<rect x="404.3" y="234.00" width="39.7" height="1.00" fill="rgb(255,212,81)"/>
<rect x="404.3" y="235.00" width="39.7" height="1.00" fill="rgb(255,232,160)"/>
<rect x="404.3" y="236.00" width="39.7" height="1.00" fill="rgb(255,208,65)"/>
<rect x="404.3" y="237.00" width="39.7" height="1.00" fill="rgb(255,224,129)"/>
<rect x="404.3" y="238.00" width="39.7" height="1.00" fill="rgb(255,203,43)"/>
<rect x="404.3" y="239.00" width="39.7" height="1.00" fill="rgb(255,213,87)"/>
<rect x="404.3" y="240.00" width="39.7" height="1.00" fill="rgb(255,197,20)"/>
<rect x="404.3" y="241.00" width="39.7" height="1.00" fill="rgb(255,204,49)"/>
<rect x="404.3" y="242.00" width="39.7" height="1.00" fill="rgb(255,193,6)"/>
<rect x="404.3" y="243.00" width="39.7" height="1.00" fill="rgb(255,200,34)"/>
<rect x="404.3" y="244.00" width="39.7" height="1.00" fill="rgb(255,197,22)"/>
<rect x="404.3" y="245.00" width="39.7" height="1.00" fill="rgb(255,203,45)"/>
<rect x="404.3" y="246.00" width="39.7" height="1.00" fill="rgb(255,208,64)"/>
<rect x="404.3" y="247.00" width="39.7" height="1.00" fill="rgb(255,208,63)"/>
<rect x="404.3" y="248.00" width="39.7" height="1.00" fill="rgb(255,220,112)"/>
<rect x="404.3" y="249.00" width="39.7" height="1.00" fill="rgb(255,211,78)"/>
<rect x="404.3" y="250.00" width="39.7" height="1.00" fill="rgb(255,229,151)"/>
<rect x="404.3" y="251.00" width="39.7" height="1.00" fill="rgb(255,213,85)"/>
<rect x="404.3" y="252.00" width="39.7" height="1.00" fill="rgb(255,234,169)"/>
<rect x="404.3" y="253.00" width="39.7" height="1.00" fill="rgb(255,212,81)"/>
<rect x="404.3" y="254.00" width="39.7" height="1.00" fill="rgb(255,232,160)"/>
<rect x="404.3" y="255.00" width="39.7" height="1.00" fill="rgb(255,208,65)"/>
<rect x="404.3" y="256.00" width="39.7" height="1.00" fill="rgb(255,224,129)"/>
<rect x="404.3" y="257.00" width="39.7" height="1.00" fill="rgb(255,203,43)"/>
<rect x="404.3" y="258.00" width="39.7" height="1.00" fill="rgb(255,213,87)"/>
<rect x="404.3" y="259.00" width="39.7" height="1.00" fill="rgb(255,197,20)"/>
<rect x="404.3" y="260.00" width="39.7" height="1.00" fill="rgb(255,204,49)"/>
<rect x="404.3" y="261.00" width="39.7" height="1.00" fill="rgb(255,193,6)"/>
<rect x="404.3" y="262.00" width="39.7" height="1.00" fill="rgb(255,200,34)"/>
<rect x="404.3" y="263.00" width="39.7" height="1.00" fill="rgb(255,197,22)"/>
<rect x="404.3" y="264.00" width="39.7" height="1.00" fill="rgb(255,203,45)"/>
<rect x="404.3" y="265.00" width="39.7" height="1.00" fill="rgb(255,208,64)"/>
<rect x="404.3" y="266.00" width="39.7" height="1.00" fill="rgb(255,208,63)"/>
<rect x="404.3" y="267.00" width="39.7" height="1.00" fill="rgb(255,220,112)"/>
<rect x="404.3" y="268.00" width="39.7" height="1.00" fill="rgb(255,211,78)"/>
<rect x="404.3" y="269.00" width="39.7" height="1.00" fill="rgb(255,229,151)"/>
<rect x="404.3" y="270.00" width="39.7" height="1.00" fill="rgb(255,213,85)"/>
<rect x="404.3" y="271.00" width="39.7" height="1.00" fill="rgb(255,234,169)"/>
<rect x="404.3" y="272.00" width="39.7" height="1.00" fill="rgb(255,212,81)"/>
<rect x="404.3" y="273.00" width="39.7" height="1.00" fill="rgb(255,232,160)"/>
<rect x="404.3" y="274.00" width="39.7" height="1.00" fill="rgb(255,208,65)"/>
<rect x="404.3" y="275.00" width="39.7" height="1.00" fill="rgb(255,224,129)"/>
<rect x="404.3" y="276.00" width="39.7" height="1.00" fill="rgb(255,203,43)"/>
<rect x="404.3" y="277.00" width="39.7" height="1.00" fill="rgb(255,213,87)"/>
<rect x="404.3" y="278.00" width="39.7" height="1.00" fill="rgb(255,197,20)"/>
<rect x="404.3" y="279.00" width="39.7" height="1.00" fill="rgb(255,204,49)"/>
<rect x="404.3" y="280.00" width="39.7" height="1.00" fill="rgb(255,193,6)"/>
<rect x="404.3" y="281.00" width="39.7" height="1.00" fill="rgb(255,200,34)"/>
<rect x="404.3" y="282.00" width="39.7" height="1.00" fill="rgb(255,197,22)"/>
<rect x="404.3" y="283.00" width="39.7" height="1.00" fill="rgb(255,203,45)"/>
<rect x="404.3" y="284.00" width="39.7" height="1.00" fill="rgb(255,208,64)"/>
<rect x="404.3" y="285.00" width="39.7" height="1.00" fill="rgb(255,208,63)"/>
<rect x="404.3" y="286.00" width="39.7" height="1.00" fill="rgb(255,220,112)"/>
<rect x="404.3" y="287.00" width="39.7" height="1.00" fill="rgb(255,211,78)"/>
<rect x="404.3" y="288.00" width="39.7" height="1.00" fill="rgb(255,229,151)"/>
<rect x="404.3" y="289.00" width="39.7" height="1.00" fill="rgb(255,213,85)"/>
<rect x="404.3" y="290.00" width="39.7" height="1.00" fill="rgb(255,234,169)"/>
<rect x="404.3" y="291.00" width="39.7" height="1.00" fill="rgb(255,212,81)"/>
<rect x="404.3" y="292.00" width="39.7" height="1.00" fill="rgb(255,232,160)"/>
<rect x="404.3" y="293.00" width="39.7" height="1.00" fill="rgb(255,208,65)"/>
<rect x="404.3" y="294.00" width="39.7" height="1.00" fill="rgb(255,224,129)"/>
<rect x="404.3" y="295.00" width="39.7" height="1.00" fill="rgb(255,203,43)"/>
<rect x="404.3" y="296.00" width="39.7" height="1.00" fill="rgb(255,213,87)"/>
<rect x="404.3" y="297.00" width="39.7" height="1.00" fill="rgb(255,197,20)"/>
<rect x="404.3" y="298.00" width="39.7" height="1.00" fill="rgb(255,204,49)"/>
<rect x="404.3" y="299.00" width="39.7" height="1.00" fill="rgb(255,193,6)"/>
<rect x="404.3" y="300.00" width="39.7" height="1.00" fill="rgb(255,200,34)"/>
<rect x="404.3" y="301.00" width="39.7" height="1.00" fill="rgb(255,197,22)"/>
<rect x="404.3" y="302.00" width="39.7" height="1.00" fill="rgb(255,203,45)"/>
<rect x="404.3" y="303.00" width="39.7" height="1.00" fill="rgb(255,208,64)"/>
<rect x="404.3" y="304.00" width="39.7" height="1.00" fill="rgb(255,208,63)"/>
<rect x="404.3" y="305.00" width="39.7" height="1.00" fill="rgb(255,220,112)"/>
<rect x="404.3" y="306.00" width="39.7" height="1.00" fill="rgb(255,211,78)"/>
<rect x="404.3" y="307.00" width="39.7" height="1.00" fill="rgb(255,229,151)"/>
<rect x="404.3" y="308.00" width="39.7" height="1.00" fill="rgb(255,213,85)"/>
<rect x="404.3" y="309.00" width="39.7" height="1.00" fill="rgb(255,234,169)"/></g>
<g><rect x="452.5" y="199.90" width="40.5" height="0.10" fill="rgb(184,214,164)"/>
<rect x="452.5" y="200.00" width="40.5" height="1.00" fill="rgb(136,187,102)"/>
<rect x="452.5" y="201.00" width="40.5" height="1.00" fill="rgb(161,201,134)"/>
<rect x="452.5" y="202.00" width="40.5" height="1.00" fill="rgb(123,179,85)"/>
<rect x="452.5" y="203.00" width="40.5" height="1.00" fill="rgb(140,189,106)"/>
<rect x="452.5" y="204.00" width="40.5" height="1.00" fill="rgb(115,175,75)"/>
<rect x="452.5" y="205.00" width="40.5" height="1.00" fill="rgb(131,184,95)"/>
<rect x="452.5" y="206.00" width="40.5" height="1.00" fill="rgb(124,180,87)"/>
<rect x="452.5" y="207.00" width="40.5" height="1.00" fill="rgb(138,188,104)"/>
<rect x="452.5" y="208.00" width="40.5" height="1.00" fill="rgb(148,193,117)"/>
<rect x="452.5" y="209.00" width="40.5" height="1.00" fill="rgb(147,193,116)"/>
<rect x="452.5" y="210.00" width="40.5" height="1.00" fill="rgb(175,209,152)"/>
<rect x="452.5" y="211.00" width="40.5" height="1.00" fill="rgb(156,198,128)"/>
<rect x="452.5" y="212.00" width="40.5" height="1.00" fill="rgb(197,222,180)"/>
<rect x="452.5" y="213.00" width="40.5" height="1.00" fill="rgb(160,200,133)"/>
<rect x="452.5" y="214.00" width="40.5" height="1.00" fill="rgb(207,227,193)"/>
<rect x="452.5" y="215.00" width="40.5" height="1.00" fill="rgb(157,199,129)"/>
<rect x="452.5" y="216.00" width="40.5" height="1.00" fill="rgb(202,224,187)"/>
<rect x="452.5" y="217.00" width="40.5" height="1.00" fill="rgb(148,194,118)"/>
<rect x="452.5" y="218.00" width="40.5" height="1.00" fill="rgb(184,214,164)"/>
<rect x="452.5" y="219.00" width="40.5" height="1.00" fill="rgb(136,187,102)"/>
<rect x="452.5" y="220.00" width="40.5" height="1.00" fill="rgb(161,201,134)"/>
<rect x="452.5" y="221.00" width="40.5" height="1.00" fill="rgb(123,179,85)"/>
<rect x="452.5" y="222.00" width="40.5" height="1.00" fill="rgb(140,189,106)"/>
<rect x="452.5" y="223.00" width="40.5" height="1.00" fill="rgb(115,175,75)"/>
<rect x="452.5" y="224.00" width="40.5" height="1.00" fill="rgb(131,184,95)"/>
<rect x="452.5" y="225.00" width="40.5" height="1.00" fill="rgb(124,180,87)"/>
<rect x="452.5" y="226.00" width="40.5" height="1.00" fill="rgb(138,188,104)"/>
<rect x="452.5" y="227.00" width="40.5" height="1.00" fill="rgb(148,193,117)"/>
<rect x="452.5" y="228.00" width="40.5" height="1.00" fill="rgb(147,193,116)"/>
<rect x="452.5" y="229.00" width="40.5" height="1.00" fill="rgb(175,209,152)"/>
<rect x="452.5" y="230.00" width="40.5" height="1.00" fill="rgb(156,198,128)"/>
<rect x="452.5" y="231.00" width="40.5" height="1.00" fill="rgb(197,222,180)"/>
<rect x="452.5" y="232.00" width="40.5" height="1.00" fill="rgb(160,200,133)"/>
<rect x="452.5" y="233.00" width="40.5" height="1.00" fill="rgb(207,227,193)"/>
<rect x="452.5" y="234.00" width="40.5" height="1.00" fill="rgb(157,199,129)"/>
<rect x="452.5" y="235.00" width="40.5" height="1.00" fill="rgb(202,224,187)"/>
<rect x="452.5" y="236.00" width="40.5" height="1.00" fill="rgb(148,194,118)"/>
<rect x="452.5" y="237.00" width="40.5" height="1.00" fill="rgb(184,214,164)"/>
<rect x="452.5" y="238.00" width="40.5" height="1.00" fill="rgb(136,187,102)"/>
<rect x="452.5" y="239.00" width="40.5" height="1.00" fill="rgb(161,201,134)"/>
<rect x="452.5" y="240.00" width="40.5" height="1.00" fill="rgb(123,179,85)"/>
<rect x="452.5" y="241.00" width="40.5" height="1.00" fill="rgb(140,189,106)"/>
<rect x="452.5" y="242.00" width="40.5" height="1.00" fill="rgb(115,175,75)"/>
<rect x="452.5" y="243.00" width="40.5" height="1.00" fill="rgb(131,184,95)"/>
<rect x="452.5" y="244.00" width="40.5" height="1.00" fill="rgb(124,180,87)"/>
<rect x="452.5" y="245.00" width="40.5" height="1.00" fill="rgb(138,188,104)"/>
<rect x="452.5" y="246.00" width="40.5" height="1.00" fill="rgb(148,193,117)"/>
<rect x="452.5" y="247.00" width="40.5" height="1.00" fill="rgb(147,193,116)"/>
<rect x="452.5" y="248.00" width="40.5" height="1.00" fill="rgb(175,209,152)"/>
<rect x="452.5" y="249.00" width="40.5" height="1.00" fill="rgb(156,198,128)"/>
<rect x="452.5" y="250.00" width="40.5" height="1.00" fill="rgb(197,222,180)"/>
<rect x="452.5" y="251.00" width="40.5" height="1.00" fill="rgb(160,200,133)"/>
<rect x="452.5" y="252.00" width="40.5" height="1.00" fill="rgb(207,227,193)"/>
<rect x="452.5" y="253.00" width="40.5" height="1.00" fill="rgb(157,199,129)"/>
<rect x="452.5" y="254.00" width="40.5" height="1.00" fill="rgb(202,224,187)"/>
<rect x="452.5" y="255.00" width="40.5" height="1.00" fill="rgb(148,194,118)"/>
<rect x="452.5" y="256.00" width="40.5" height="1.00" fill="rgb(184,214,164)"/>
<rect x="452.5" y="257.00" width="40.5" height="1.00" fill="rgb(136,187,102)"/>
<rect x="452.5" y="258.00" width="40.5" height="1.00" fill="rgb(161,201,134)"/>
<rect x="452.5" y="259.00" width="40.5" height="1.00" fill="rgb(123,179,85)"/>
<rect x="452.5" y="260.00" width="40.5" height="1.00" fill="rgb(140,189,106)"/>
<rect x="452.5" y="261.00" width="40.5" height="1.00" fill="rgb(115,175,75)"/>
<rect x="452.5" y="262.00" width="40.5" height="1.00" fill="rgb(131,184,95)"/>
<rect x="452.5" y="263.00" width="40.5" height="1.00" fill="rgb(124,180,87)"/>
<rect x="452.5" y="264.00" width="40.5" height="1.00" fill="rgb(138,188,104)"/>
<rect x="452.5" y="265.00" width="40.5" height="1.00" fill="rgb(148,193,117)"/>
<rect x="452.5" y="266.00" width="40.5" height="1.00" fill="rgb(147,193,116)"/>
<rect x="452.5" y="267.00" width="40.5" height="1.00" fill="rgb(175,209,152)"/>
<rect x="452.5" y="268.00" width="40.5" height="1.00" fill="rgb(156,198,128)"/>
<rect x="452.5" y="269.00" width="40.5" height="1.00" fill="rgb(197,222,180)"/>
<rect x="452.5" y="270.00" width="40.5" height="1.00" fill="rgb(160,200,133)"/>
<rect x="452.5" y="271.00" width="40.5" height="1.00" fill="rgb(207,227,193)"/>
<rect x="452.5" y="272.00" width="40.5" height="1.00" fill="rgb(157,199,129)"/>
<rect x="452.5" y="273.00" width="40.5" height="1.00" fill="rgb(202,224,187)"/>
<rect x="452.5" y="274.00" width="40.5" height="1.00" fill="rgb(148,194,118)"/>
<rect x="452.5" y="275.00" width="40.5" height="1.00" fill="rgb(184,214,164)"/>
<rect x="452.5" y="276.00" width="40.5" height="1.00" fill="rgb(136,187,102)"/>
<rect x="452.5" y="277.00" width="40.5" height="1.00" fill="rgb(161,201,134)"/>
<rect x="452.5" y="278.00" width="40.5" height="1.00" fill="rgb(123,179,85)"/>
<rect x="452.5" y="279.00" width="40.5" height="1.00" fill="rgb(140,189,106)"/>
<rect x="452.5" y="280.00" width="40.5" height="1.00" fill="rgb(115,175,75)"/>
<rect x="452.5" y="281.00" width="40.5" height="1.00" fill="rgb(131,184,95)"/>
<rect x="452.5" y="282.00" width="40.5" height="1.00" fill="rgb(124,180,87)"/>
<rect x="452.5" y="283.00" width="40.5" height="1.00" fill="rgb(138,188,104)"/>
<rect x="452.5" y="284.00" width="40.5" height="1.00" fill="rgb(148,193,117)"/>
<rect x="452.5" y="285.00" width="40.5" height="1.00" fill="rgb(147,193,116)"/>
<rect x="452.5" y="286.00" width="40.5" height="1.00" fill="rgb(175,209,152)"/>
<rect x="452.5" y="287.00" width="40.5" height="1.00" fill="rgb(156,198,128)"/>
<rect x="452.5" y="288.00" width="40.5" height="1.00" fill="rgb(197,222,180)"/>
<rect x="452.5" y="289.00" width="40.5" height="1.00" fill="rgb(160,200,133)"/>
<rect x="452.5" y="290.00" width="40.5" height="1.00" fill="rgb(207,227,193)"/>
<rect x="452.5" y="291.00" width="40.5" height="1.00" fill="rgb(157,199,129)"/>
<rect x="452.5" y="292.00" width="40.5" height="1.00" fill="rgb(202,224,187)"/>
<rect x="452.5" y="293.00" width="40.5" height="1.00" fill="rgb(148,194,118)"/>
<rect x="452.5" y="294.00" width="40.5" height="1.00" fill="rgb(184,214,164)"/>
<rect x="452.5" y="295.00" width="40.5" height="1.00" fill="rgb(136,187,102)"/>
<rect x="452.5" y="296.00" width="40.5" height="1.00" fill="rgb(161,201,134)"/>
<rect x="452.5" y="297.00" width="40.5" height="1.00" fill="rgb(123,179,85)"/>
<rect x="452.5" y="298.00" width="40.5" height="1.00" fill="rgb(140,189,106)"/>
<rect x="452.5" y="299.00" width="40.5" height="1.00" fill="rgb(115,175,75)"/>
<rect x="452.5" y="300.00" width="40.5" height="1.00" fill="rgb(131,184,95)"/>
<rect x="452.5" y="301.00" width="40.5" height="1.00" fill="rgb(124,180,87)"/>
<rect x="452.5" y="302.00" width="40.5" height="1.00" fill="rgb(138,188,104)"/>
<rect x="452.5" y="303.00" width="40.5" height="1.00" fill="rgb(148,193,117)"/>
<rect x="452.5" y="304.00" width="40.5" height="1.00" fill="rgb(147,193,116)"/>
<rect x="452.5" y="305.00" width="40.5" height="1.00" fill="rgb(175,209,152)"/>
<rect x="452.5" y="306.00" width="40.5" height="1.00" fill="rgb(156,198,128)"/>
<rect x="452.5" y="307.00" width="40.5" height="1.00" fill="rgb(197,222,180)"/>
<rect x="452.5" y="308.00" width="40.5" height="1.00" fill="rgb(160,200,133)"/>
<rect x="452.5" y="309.00" width="40.5" height="1.00" fill="rgb(207,227,193)"/></g>
<g><rect x="558.4" y="77.80" width="40.0" height="0.20" fill="rgb(255,220,112)"/>
<rect x="558.4" y="78.00" width="40.0" height="1.00" fill="rgb(255,211,78)"/>
<rect x="558.4" y="79.00" width="40.0" height="1.00" fill="rgb(255,229,151)"/>
<rect x="558.4" y="80.00" width="40.0" height="1.00" fill="rgb(255,213,85)"/>
<rect x="558.4" y="81.00" width="40.0" height="1.00" fill="rgb(255,234,169)"/>
<rect x="558.4" y="82.00" width="40.0" height="1.00" fill="rgb(255,212,81)"/>
<rect x="558.4" y="83.00" width="40.0" height="1.00" fill="rgb(255,232,160)"/>
<rect x="558.4" y="84.00" width="40.0" height="1.00" fill="rgb(255,208,65)"/>
<rect x="558.4" y="85.00" width="40.0" height="1.00" fill="rgb(255,224,129)"/>
<rect x="558.4" y="86.00" width="40.0" height="1.00" fill="rgb(255,203,43)"/>
<rect x="558.4" y="87.00" width="40.0" height="1.00" fill="rgb(255,213,87)"/>
<rect x="558.4" y="88.00" width="40.0" height="1.00" fill="rgb(255,197,20)"/>
<rect x="558.4" y="89.00" width="40.0" height="1.00" fill="rgb(255,204,49)"/>
<rect x="558.4" y="90.00" width="40.0" height="1.00" fill="rgb(255,193,6)"/>
<rect x="558.4" y="91.00" width="40.0" height="1.00" fill="rgb(255,200,34)"/>
<rect x="558.4" y="92.00" width="40.0" height="1.00" fill="rgb(255,197,22)"/>
<rect x="558.4" y="93.00" width="40.0" height="1.00" fill="rgb(255,203,46)"/>
<rect x="558.4" y="94.00" width="40.0" height="1.00" fill="rgb(255,208,64)"/>
<rect x="558.4" y="95.00" width="40.0" height="1.00" fill="rgb(255,208,63)"/>
<rect x="558.4" y="96.00" width="40.0" height="1.00" fill="rgb(255,220,112)"/>
<rect x="558.4" y="97.00" width="40.0" height="1.00" fill="rgb(255,211,78)"/>
<rect x="558.4" y="98.00" width="40.0" height="1.00" fill="rgb(255,229,151)"/>
<rect x="558.4" y="99.00" width="40.0" height="1.00" fill="rgb(255,213,85)"/>
<rect x="558.4" y="100.00" width="40.0" height="1.00" fill="rgb(255,234,169)"/>
<rect x="558.4" y="101.00" width="40.0" height="1.00" fill="rgb(255,212,81)"/>
<rect x="558.4" y="102.00" width="40.0" height="1.00" fill="rgb(255,232,160)"/>
<rect x="558.4" y="103.00" width="40.0" height="1.00" fill="rgb(255,208,65)"/>
<rect x="558.4" y="104.00" width="40.0" height="1.00" fill="rgb(255,224,129)"/>
<rect x="558.4" y="105.00" width="40.0" height="1.00" fill="rgb(255,203,43)"/>
<rect x="558.4" y="106.00" width="40.0" height="1.00" fill="rgb(255,213,87)"/>
<rect x="558.4" y="107.00" width="40.0" height="1.00" fill="rgb(255,197,20)"/>
<rect x="558.4" y="108.00" width="40.0" height="1.00" fill="rgb(255,204,49)"/>
<rect x="558.4" y="109.00" width="40.0" height="1.00" fill="rgb(255,193,6)"/>
<rect x="558.4" y="110.00" width="40.0" height="1.00" fill="rgb(255,200,34)"/>
<rect x="558.4" y="111.00" width="40.0" height="1.00" fill="rgb(255,197,22)"/>
<rect x="558.4" y="112.00" width="40.0" height="1.00" fill="rgb(255,203,46)"/>
<rect x="558.4" y="113.00" width="40.0" height="1.00" fill="rgb(255,208,64)"/>
<rect x="558.4" y="114.00" width="40.0" height="1.00" fill="rgb(255,208,63)"/>
<rect x="558.4" y="115.00" width="40.0" height="1.00" fill="rgb(255,220,112)"/>
<rect x="558.4" y="116.00" width="40.0" height="1.00" fill="rgb(255,211,78)"/>
<rect x="558.4" y="117.00" width="40.0" height="1.00" fill="rgb(255,229,151)"/>
<rect x="558.4" y="118.00" width="40.0" height="1.00" fill="rgb(255,213,85)"/>
<rect x="558.4" y="119.00" width="40.0" height="1.00" fill="rgb(255,234,169)"/>
<rect x="558.4" y="120.00" width="40.0" height="1.00" fill="rgb(255,212,81)"/>
<rect x="558.4" y="121.00" width="40.0" height="1.00" fill="rgb(255,232,160)"/>
<rect x="558.4" y="122.00" width="40.0" height="1.00" fill="rgb(255,208,65)"/>
<rect x="558.4" y="123.00" width="40.0" height="1.00" fill="rgb(255,224,129)"/>
<rect x="558.4" y="124.00" width="40.0" height="1.00" fill="rgb(255,203,43)"/>
<rect x="558.4" y="125.00" width="40.0" height="1.00" fill="rgb(255,213,87)"/>
<rect x="558.4" y="126.00" width="40.0" height="1.00" fill="rgb(255,197,20)"/>
<rect x="558.4" y="127.00" width="40.0" height="1.00" fill="rgb(255,204,49)"/>
<rect x="558.4" y="128.00" width="40.0" height="1.00" fill="rgb(255,193,6)"/>
<rect x="558.4" y="129.00" width="40.0" height="1.00" fill="rgb(255,200,34)"/>
<rect x="558.4" y="130.00" width="40.0" height="1.00" fill="rgb(255,197,22)"/>
<rect x="558.4" y="131.00" width="40.0" height="1.00" fill="rgb(255,203,46)"/>
<rect x="558.4" y="132.00" width="40.0" height="1.00" fill="rgb(255,208,64)"/>
<rect x="558.4" y="133.00" width="40.0" height="1.00" fill="rgb(255,208,63)"/>
<rect x="558.4" y="134.00" width="40.0" height="1.00" fill="rgb(255,220,112)"/>
<rect x="558.4" y="135.00" width="40.0" height="1.00" fill="rgb(255,211,78)"/>
<rect x="558.4" y="136.00" width="40.0" height="1.00" fill="rgb(255,229,151)"/>
<rect x="558.4" y="137.00" width="40.0" height="1.00" fill="rgb(255,213,85)"/>
<rect x="558.4" y="138.00" width="40.0" height="1.00" fill="rgb(255,234,169)"/>
<rect x="558.4" y="139.00" width="40.0" height="1.00" fill="rgb(255,212,81)"/>
<rect x="558.4" y="140.00" width="40.0" height="1.00" fill="rgb(255,232,160)"/>
<rect x="558.4" y="141.00" width="40.0" height="1.00" fill="rgb(255,208,65)"/>
<rect x="558.4" y="142.00" width="40.0" height="1.00" fill="rgb(255,224,129)"/>
<rect x="558.4" y="143.00" width="40.0" height="1.00" fill="rgb(255,203,43)"/>
<rect x="558.4" y="144.00" width="40.0" height="1.00" fill="rgb(255,213,87)"/>
<rect x="558.4" y="145.00" width="40.0" height="1.00" fill="rgb(255,197,20)"/>
<rect x="558.4" y="146.00" width="40.0" height="1.00" fill="rgb(255,204,49)"/>
<rect x="558.4" y="147.00" width="40.0" height="1.00" fill="rgb(255,193,6)"/>
<rect x="558.4" y="148.00" width="40.0" height="1.00" fill="rgb(255,200,34)"/>
<rect x="558.4" y="149.00" width="40.0" height="1.00" fill="rgb(255,197,22)"/>
<rect x="558.4" y="150.00" width="40.0" height="1.00" fill="rgb(255,203,46)"/>
<rect x="558.4" y="151.00" width="40.0" height="1.00" fill="rgb(255,208,64)"/>
<rect x="558.4" y="152.00" width="40.0" height="1.00" fill="rgb(255,208,63)"/>
<rect x="558.4" y="153.00" width="40.0" height="1.00" fill="rgb(255,220,112)"/>
<rect x="558.4" y="154.00" width="40.0" height="1.00" fill="rgb(255,211,78)"/>
<rect x="558.4" y="155.00" width="40.0" height="1.00" fill="rgb(255,229,151)"/>
<rect x="558.4" y="156.00" width="40.0" height="1.00" fill="rgb(255,213,85)"/>
<rect x="558.4" y="157.00" width="40.0" height="1.00" fill="rgb(255,234,169)"/>
<rect x="558.4" y="158.00" width="40.0" height="1.00" fill="rgb(255,212,81)"/>
<rect x="558.4" y="159.00" width="40.0" height="1.00" fill="rgb(255,232,160)"/>
<rect x="558.4" y="160.00" width="40.0" height="1.00" fill="rgb(255,208,65)"/>
<rect x="558.4" y="161.00" width="40.0" height="1.00" fill="rgb(255,224,129)"/>
<rect x="558.4" y="162.00" width="40.0" height="1.00" fill="rgb(255,203,43)"/>
<rect x="558.4" y="163.00" width="40.0" height="1.00" fill="rgb(255,213,87)"/>
<rect x="558.4" y="164.00" width="40.0" height="1.00" fill="rgb(255,197,20)"/>
<rect x="558.4" y="165.00" width="40.0" height="1.00" fill="rgb(255,204,49)"/>
<rect x="558.4" y="166.00" width="40.0" height="1.00" fill="rgb(255,193,6)"/>
<rect x="558.4" y="167.00" width="40.0" height="1.00" fill="rgb(255,200,34)"/>
<rect x="558.4" y="168.00" width="40.0" height="1.00" fill="rgb(255,197,22)"/>
<rect x="558.4" y="169.00" width="40.0" height="1.00" fill="rgb(255,203,46)"/>
<rect x="558.4" y="170.00" width="40.0" height="1.00" fill="rgb(255,208,64)"/>
<rect x="558.4" y="171.00" width="40.0" height="1.00" fill="rgb(255,208,63)"/>
<rect x="558.4" y="172.00" width="40.0" height="1.00" fill="rgb(255,220,112)"/>
<rect x="558.4" y="173.00" width="40.0" height="1.00" fill="rgb(255,211,78)"/>
<rect x="558.4" y="174.00" width="40.0" height="1.00" fill="rgb(255,229,151)"/>
<rect x="558.4" y="175.00" width="40.0" height="1.00" fill="rgb(255,213,85)"/>
<rect x="558.4" y="176.00" width="40.0" height="1.00" fill="rgb(255,234,169)"/>
<rect x="558.4" y="177.00" width="40.0" height="1.00" fill="rgb(255,212,81)"/>
<rect x="558.4" y="178.00" width="40.0" height="1.00" fill="rgb(255,232,160)"/>
<rect x="558.4" y="179.00" width="40.0" height="1.00" fill="rgb(255,208,65)"/>
<rect x="558.4" y="180.00" width="40.0" height="1.00" fill="rgb(255,224,129)"/>
<rect x="558.4" y="181.00" width="40.0" height="1.00" fill="rgb(255,203,43)"/>
<rect x="558.4" y="182.00" width="40.0" height="1.00" fill="rgb(255,213,87)"/>
<rect x="558.4" y="183.00" width="40.0" height="1.00" fill="rgb(255,197,20)"/>
<rect x="558.4" y="184.00" width="40.0" height="1.00" fill="rgb(255,204,49)"/>
<rect x="558.4" y="185.00" width="40.0" height="1.00" fill="rgb(255,193,6)"/>
<rect x="558.4" y="186.00" width="40.0" height="1.00" fill="rgb(255,200,34)"/>
<rect x="558.4" y="187.00" width="40.0" height="1.00" fill="rgb(255,197,22)"/>
<rect x="558.4" y="188.00" width="40.0" height="1.00" fill="rgb(255,203,46)"/>
<rect x="558.4" y="189.00" width="40.0" height="1.00" fill="rgb(255,208,64)"/>
<rect x="558.4" y="190.00" width="40.0" height="1.00" fill="rgb(255,208,63)"/>
<rect x="558.4" y="191.00" width="40.0" height="1.00" fill="rgb(255,220,112)"/>
<rect x="558.4" y="192.00" width="40.0" height="1.00" fill="rgb(255,211,78)"/>
<rect x="558.4" y="193.00" width="40.0" height="1.00" fill="rgb(255,229,151)"/>
<rect x="558.4" y="194.00" width="40.0" height="1.00" fill="rgb(255,213,85)"/>
<rect x="558.4" y="195.00" width="40.0" height="1.00" fill="rgb(255,234,169)"/>
<rect x="558.4" y="196.00" width="40.0" height="1.00" fill="rgb(255,212,81)"/>
<rect x="558.4" y="197.00" width="40.0" height="1.00" fill="rgb(255,232,160)"/>
<rect x="558.4" y="198.00" width="40.0" height="1.00" fill="rgb(255,208,65)"/>
<rect x="558.4" y="199.00" width="40.0" height="1.00" fill="rgb(255,224,129)"/>
<rect x="558.4" y="200.00" width="40.0" height="1.00" fill="rgb(255,203,43)"/>
<rect x="558.4" y="201.00" width="40.0" height="1.00" fill="rgb(255,213,87)"/>
<rect x="558.4" y="202.00" width="40.0" height="1.00" fill="rgb(255,197,20)"/>
<rect x="558.4" y="203.00" width="40.0" height="1.00" fill="rgb(255,204,49)"/>
<rect x="558.4" y="204.00" width="40.0" height="1.00" fill="rgb(255,193,6)"/>
<rect x="558.4" y="205.00" width="40.0" height="1.00" fill="rgb(255,200,34)"/>
<rect x="558.4" y="206.00" width="40.0" height="1.00" fill="rgb(255,197,22)"/>
<rect x="558.4" y="207.00" width="40.0" height="1.00" fill="rgb(255,203,46)"/>
<rect x="558.4" y="208.00" width="40.0" height="1.00" fill="rgb(255,208,64)"/>
<rect x="558.4" y="209.00" width="40.0" height="1.00" fill="rgb(255,208,63)"/>
<rect x="558.4" y="210.00" width="40.0" height="1.00" fill="rgb(255,220,112)"/>
<rect x="558.4" y="211.00" width="40.0" height="1.00" fill="rgb(255,211,78)"/>
<rect x="558.4" y="212.00" width="40.0" height="1.00" fill="rgb(255,229,151)"/>
<rect x="558.4" y="213.00" width="40.0" height="1.00" fill="rgb(255,213,85)"/>
<rect x="558.4" y="214.00" width="40.0" height="1.00" fill="rgb(255,234,169)"/>
<rect x="558.4" y="215.00" width="40.0" height="1.00" fill="rgb(255,212,81)"/>
<rect x="558.4" y="216.00" width="40.0" height="1.00" fill="rgb(255,232,160)"/>
<rect x="558.4" y="217.00" width="40.0" height="1.00" fill="rgb(255,208,65)"/>
<rect x="558.4" y="218.00" width="40.0" height="1.00" fill="rgb(255,224,129)"/>
<rect x="558.4" y="219.00" width="40.0" height="1.00" fill="rgb(255,203,43)"/>
<rect x="558.4" y="220.00" width="40.0" height="1.00" fill="rgb(255,213,87)"/>
<rect x="558.4" y="221.00" width="40.0" height="1.00" fill="rgb(255,197,20)"/>
<rect x="558.4" y="222.00" width="40.0" height="1.00" fill="rgb(255,204,49)"/>
<rect x="558.4" y="223.00" width="40.0" height="1.00" fill="rgb(255,193,6)"/>
<rect x="558.4" y="224.00" width="40.0" height="1.00" fill="rgb(255,200,34)"/>
<rect x="558.4" y="225.00" width="40.0" height="1.00" fill="rgb(255,197,22)"/>
<rect x="558.4" y="226.00" width="40.0" height="1.00" fill="rgb(255,203,46)"/>
<rect x="558.4" y="227.00" width="40.0" height="1.00" fill="rgb(255,208,64)"/>
<rect x="558.4" y="228.00" width="40.0" height="1.00" fill="rgb(255,208,63)"/>
<rect x="558.4" y="229.00" width="40.0" height="1.00" fill="rgb(255,220,112)"/>
<rect x="558.4" y="230.00" width="40.0" height="1.00" fill="rgb(255,211,78)"/>
<rect x="558.4" y="231.00" width="40.0" height="1.00" fill="rgb(255,229,151)"/>
<rect x="558.4" y="232.00" width="40.0" height="1.00" fill="rgb(255,213,85)"/>
<rect x="558.4" y="233.00" width="40.0" height="1.00" fill="rgb(255,234,169)"/>
<rect x="558.4" y="234.00" width="40.0" height="1.00" fill="rgb(255,212,81)"/>
<rect x="558.4" y="235.00" width="40.0" height="1.00" fill="rgb(255,232,160)"/>
<rect x="558.4" y="236.00" width="40.0" height="1.00" fill="rgb(255,208,65)"/>
<rect x="558.4" y="237.00" width="40.0" height="1.00" fill="rgb(255,224,129)"/>
<rect x="558.4" y="238.00" width="40.0" height="1.00" fill="rgb(255,203,43)"/>
<rect x="558.4" y="239.00" width="40.0" height="1.00" fill="rgb(255,213,87)"/>
<rect x="558.4" y="240.00" width="40.0" height="1.00" fill="rgb(255,197,20)"/>
<rect x="558.4" y="241.00" width="40.0" height="1.00" fill="rgb(255,204,49)"/>
<rect x="558.4" y="242.00" width="40.0" height="1.00" fill="rgb(255,193,6)"/>
<rect x="558.4" y="243.00" width="40.0" height="1.00" fill="rgb(255,200,34)"/>
<rect x="558.4" y="244.00" width="40.0" height="1.00" fill="rgb(255,197,22)"/>
<rect x="558.4" y="245.00" width="40.0" height="1.00" fill="rgb(255,203,45)"/>
<rect x="558.4" y="246.00" width="40.0" height="1.00" fill="rgb(255,208,64)"/>
<rect x="558.4" y="247.00" width="40.0" height="1.00" fill="rgb(255,208,63)"/>
<rect x="558.4" y="248.00" width="40.0" height="1.00" fill="rgb(255,220,112)"/>
<rect x="558.4" y="249.00" width="40.0" height="1.00" fill="rgb(255,211,78)"/>
<rect x="558.4" y="250.00" width="40.0" height="1.00" fill="rgb(255,229,151)"/>
<rect x="558.4" y="251.00" width="40.0" height="1.00" fill="rgb(255,213,85)"/>
<rect x="558.4" y="252.00" width="40.0" height="1.00" fill="rgb(255,234,169)"/>
<rect x="558.4" y="253.00" width="40.0" height="1.00" fill="rgb(255,212,81)"/>
<rect x="558.4" y="254.00" width="40.0" height="1.00" fill="rgb(255,232,160)"/>
<rect x="558.4" y="255.00" width="40.0" height="1.00" fill="rgb(255,208,65)"/>
<rect x="558.4" y="256.00" width="40.0" height="1.00" fill="rgb(255,224,129)"/>
<rect x="558.4" y="257.00" width="40.0" height="1.00" fill="rgb(255,203,43)"/>
<rect x="558.4" y="258.00" width="40.0" height="1.00" fill="rgb(255,213,87)"/>
<rect x="558.4" y="259.00" width="40.0" height="1.00" fill="rgb(255,197,20)"/>
<rect x="558.4" y="260.00" width="40.0" height="1.00" fill="rgb(255,204,49)"/>
<rect x="558.4" y="261.00" width="40.0" height="1.00" fill="rgb(255,193,6)"/>
<rect x="558.4" y="262.00" width="40.0" height="1.00" fill="rgb(255,200,34)"/>
<rect x="558.4" y="263.00" width="40.0" height="1.00" fill="rgb(255,197,22)"/>
<rect x="558.4" y="264.00" width="40.0" height="1.00" fill="rgb(255,203,45)"/>
<rect x="558.4" y="265.00" width="40.0" height="1.00" fill="rgb(255,208,64)"/>
<rect x="558.4" y="266.00" width="40.0" height="1.00" fill="rgb(255,208,63)"/>
<rect x="558.4" y="267.00" width="40.0" height="1.00" fill="rgb(255,220,112)"/>
<rect x="558.4" y="268.00" width="40.0" height="1.00" fill="rgb(255,211,78)"/>
<rect x="558.4" y="269.00" width="40.0" height="1.00" fill="rgb(255,229,151)"/>
<rect x="558.4" y="270.00" width="40.0" height="1.00" fill="rgb(255,213,85)"/>
<rect x="558.4" y="271.00" width="40.0" height="1.00" fill="rgb(255,234,169)"/>
<rect x="558.4" y="272.00" width="40.0" height="1.00" fill="rgb(255,212,81)"/>
<rect x="558.4" y="273.00" width="40.0" height="1.00" fill="rgb(255,232,160)"/>
<rect x="558.4" y="274.00" width="40.0" height="1.00" fill="rgb(255,208,65)"/>
<rect x="558.4" y="275.00" width="40.0" height="1.00" fill="rgb(255,224,129)"/>
<rect x="558.4" y="276.00" width="40.0" height="1.00" fill="rgb(255,203,43)"/>
<rect x="558.4" y="277.00" width="40.0" height="1.00" fill="rgb(255,213,87)"/>
<rect x="558.4" y="278.00" width="40.0" height="1.00" fill="rgb(255,197,20)"/>
<rect x="558.4" y="279.00" width="40.0" height="1.00" fill="rgb(255,204,49)"/>
<rect x="558.4" y="280.00" width="40.0" height="1.00" fill="rgb(255,193,6)"/>
<rect x="558.4" y="281.00" width="40.0" height="1.00" fill="rgb(255,200,34)"/>
<rect x="558.4" y="282.00" width="40.0" height="1.00" fill="rgb(255,197,22)"/>
<rect x="558.4" y="283.00" width="40.0" height="1.00" fill="rgb(255,203,45)"/>
<rect x="558.4" y="284.00" width="40.0" height="1.00" fill="rgb(255,208,64)"/>
<rect x="558.4" y="285.00" width="40.0" height="1.00" fill="rgb(255,208,63)"/>
<rect x="558.4" y="286.00" width="40.0" height="1.00" fill="rgb(255,220,112)"/>
<rect x="558.4" y="287.00" width="40.0" height="1.00" fill="rgb(255,211,78)"/>
<rect x="558.4" y="288.00" width="40.0" height="1.00" fill="rgb(255,229,151)"/>
<rect x="558.4" y="289.00" width="40.0" height="1.00" fill="rgb(255,213,85)"/>
<rect x="558.4" y="290.00" width="40.0" height="1.00" fill="rgb(255,234,169)"/>
<rect x="558.4" y="291.00" width="40.0" height="1.00" fill="rgb(255,212,81)"/>
<rect x="558.4" y="292.00" width="40.0" height="1.00" fill="rgb(255,232,160)"/>
<rect x="558.4" y="293.00" width="40.0" height="1.00" fill="rgb(255,208,65)"/>
<rect x="558.4" y="294.00" width="40.0" height="1.00" fill="rgb(255,224,129)"/>
<rect x="558.4" y="295.00" width="40.0" height="1.00" fill="rgb(255,203,43)"/>
<rect x="558.4" y="296.00" width="40.0" height="1.00" fill="rgb(255,213,87)"/>
<rect x="558.4" y="297.00" width="40.0" height="1.00" fill="rgb(255,197,20)"/>
<rect x="558.4" y="298.00" width="40.0" height="1.00" fill="rgb(255,204,49)"/>
<rect x="558.4" y="299.00" width="40.0" height="1.00" fill="rgb(255,193,6)"/>
<rect x="558.4" y="300.00" width="40.0" height="1.00" fill="rgb(255,200,34)"/>
<rect x="558.4" y="301.00" width="40.0" height="1.00" fill="rgb(255,197,22)"/>
<rect x="558.4" y="302.00" width="40.0" height="1.00" fill="rgb(255,203,45)"/>
<rect x="558.4" y="303.00" width="40.0" height="1.00" fill="rgb(255,208,64)"/>
<rect x="558.4" y="304.00" width="40.0" height="1.00" fill="rgb(255,208,63)"/>
<rect x="558.4" y="305.00" width="40.0" height="1.00" fill="rgb(255,220,112)"/>
<rect x="558.4" y="306.00" width="40.0" height="1.00" fill="rgb(255,211,78)"/>
<rect x="558.4" y="307.00" width="40.0" height="1.00" fill="rgb(255,229,151)"/>
<rect x="558.4" y="308.00" width="40.0" height="1.00" fill="rgb(255,213,85)"/>
<rect x="558.4" y="309.00" width="40.0" height="1.00" fill="rgb(255,234,169)"/></g>
<g><rect x="606.9" y="68.80" width="39.9" height="0.20" fill="rgb(161,201,134)"/>
<rect x="606.9" y="69.00" width="39.9" height="1.00" fill="rgb(123,179,85)"/>
<rect x="606.9" y="70.00" width="39.9" height="1.00" fill="rgb(140,189,106)"/>
<rect x="606.9" y="71.00" width="39.9" height="1.00" fill="rgb(115,175,75)"/>
<rect x="606.9" y="72.00" width="39.9" height="1.00" fill="rgb(131,184,95)"/>
<rect x="606.9" y="73.00" width="39.9" height="1.00" fill="rgb(124,180,87)"/>
<rect x="606.9" y="74.00" width="39.9" height="1.00" fill="rgb(138,188,104)"/>
<rect x="606.9" y="75.00" width="39.9" height="1.00" fill="rgb(148,193,117)"/>
<rect x="606.9" y="76.00" width="39.9" height="1.00" fill="rgb(147,193,116)"/>
<rect x="606.9" y="77.00" width="39.9" height="1.00" fill="rgb(175,209,152)"/>
<rect x="606.9" y="78.00" width="39.9" height="1.00" fill="rgb(156,198,128)"/>
<rect x="606.9" y="79.00" width="39.9" height="1.00" fill="rgb(197,222,180)"/>
<rect x="606.9" y="80.00" width="39.9" height="1.00" fill="rgb(160,200,133)"/>
<rect x="606.9" y="81.00" width="39.9" height="1.00" fill="rgb(207,227,193)"/>
<rect x="606.9" y="82.00" width="39.9" height="1.00" fill="rgb(157,199,129)"/>
<rect x="606.9" y="83.00" width="39.9" height="1.00" fill="rgb(202,224,187)"/>
<rect x="606.9" y="84.00" width="39.9" height="1.00" fill="rgb(148,194,118)"/>
<rect x="606.9" y="85.00" width="39.9" height="1.00" fill="rgb(184,214,164)"/>
<rect x="606.9" y="86.00" width="39.9" height="1.00" fill="rgb(136,187,102)"/>
<rect x="606.9" y="87.00" width="39.9" height="1.00" fill="rgb(161,201,134)"/>
<rect x="606.9" y="88.00" width="39.9" height="1.00" fill="rgb(123,179,85)"/>
<rect x="606.9" y="89.00" width="39.9" height="1.00" fill="rgb(140,189,106)"/>
<rect x="606.9" y="90.00" width="39.9" height="1.00" fill="rgb(115,175,75)"/>
<rect x="606.9" y="91.00" width="39.9" height="1.00" fill="rgb(131,184,95)"/>
<rect x="606.9" y="92.00" width="39.9" height="1.00" fill="rgb(124,180,87)"/>
<rect x="606.9" y="93.00" width="39.9" height="1.00" fill="rgb(138,188,104)"/>
<rect x="606.9" y="94.00" width="39.9" height="1.00" fill="rgb(148,193,117)"/>
<rect x="606.9" y="95.00" width="39.9" height="1.00" fill="rgb(147,193,116)"/>
<rect x="606.9" y="96.00" width="39.9" height="1.00" fill="rgb(175,209,152)"/>
<rect x="606.9" y="97.00" width="39.9" height="1.00" fill="rgb(156,198,128)"/>
<rect x="606.9" y="98.00" width="39.9" height="1.00" fill="rgb(197,222,180)"/>
<rect x="606.9" y="99.00" width="39.9" height="1.00" fill="rgb(160,200,133)"/>
<rect x="606.9" y="100.00" width="39.9" height="1.00" fill="rgb(207,227,193)"/>
<rect x="606.9" y="101.00" width="39.9" height="1.00" fill="rgb(157,199,129)"/>
<rect x="606.9" y="102.00" width="39.9" height="1.00" fill="rgb(202,224,187)"/>
<rect x="606.9" y="103.00" width="39.9" height="1.00" fill="rgb(148,194,118)"/>
<rect x="606.9" y="104.00" width="39.9" height="1.00" fill="rgb(184,214,164)"/>
<rect x="606.9" y="105.00" width="39.9" height="1.00" fill="rgb(136,187,102)"/>
<rect x="606.9" y="106.00" width="39.9" height="1.00" fill="rgb(161,201,134)"/>
<rect x="606.9" y="107.00" width="39.9" height="1.00" fill="rgb(123,179,85)"/>
<rect x="606.9" y="108.00" width="39.9" height="1.00" fill="rgb(140,189,106)"/>
<rect x="606.9" y="109.00" width="39.9" height="1.00" fill="rgb(115,175,75)"/>
<rect x="606.9" y="110.00" width="39.9" height="1.00" fill="rgb(131,184,95)"/>
<rect x="606.9" y="111.00" width="39.9" height="1.00" fill="rgb(124,180,87)"/>
<rect x="606.9" y="112.00" width="39.9" height="1.00" fill="rgb(138,188,104)"/>
<rect x="606.9" y="113.00" width="39.9" height="1.00" fill="rgb(148,193,117)"/>
<rect x="606.9" y="114.00" width="39.9" height="1.00" fill="rgb(147,193,116)"/>
<rect x="606.9" y="115.00" width="39.9" height="1.00" fill="rgb(175,209,152)"/>
<rect x="606.9" y="116.00" width="39.9" height="1.00" fill="rgb(156,198,128)"/>
<rect x="606.9" y="117.00" width="39.9" height="1.00" fill="rgb(197,222,180)"/>
<rect x="606.9" y="118.00" width="39.9" height="1.00" fill="rgb(160,200,133)"/>
<rect x="606.9" y="119.00" width="39.9" height="1.00" fill="rgb(207,227,193)"/>
<rect x="606.9" y="120.00" width="39.9" height="1.00" fill="rgb(157,199,129)"/>
<rect x="606.9" y="121.00" width="39.9" height="1.00" fill="rgb(202,224,187)"/>
<rect x="606.9" y="122.00" width="39.9" height="1.00" fill="rgb(148,194,118)"/>
<rect x="606.9" y="123.00" width="39.9" height="1.00" fill="rgb(184,214,164)"/>
<rect x="606.9" y="124.00" width="39.9" height="1.00" fill="rgb(136,187,102)"/>
<rect x="606.9" y="125.00" width="39.9" height="1.00" fill="rgb(161,201,134)"/>
<rect x="606.9" y="126.00" width="39.9" height="1.00" fill="rgb(123,179,85)"/>
<rect x="606.9" y="127.00" width="39.9" height="1.00" fill="rgb(140,189,106)"/>
<rect x="606.9" y="128.00" width="39.9" height="1.00" fill="rgb(115,175,75)"/>
<rect x="606.9" y="129.00" width="39.9" height="1.00" fill="rgb(131,184,95)"/>
<rect x="606.9" y="130.00" width="39.9" height="1.00" fill="rgb(124,180,87)"/>
<rect x="606.9" y="131.00" width="39.9" height="1.00" fill="rgb(138,188,104)"/>
<rect x="606.9" y="132.00" width="39.9" height="1.00" fill="rgb(148,193,117)"/>
<rect x="606.9" y="133.00" width="39.9" height="1.00" fill="rgb(147,193,116)"/>
<rect x="606.9" y="134.00" width="39.9" height="1.00" fill="rgb(175,209,152)"/>
<rect x="606.9" y="135.00" width="39.9" height="1.00" fill="rgb(156,198,128)"/>
<rect x="606.9" y="136.00" width="39.9" height="1.00" fill="rgb(197,222,180)"/>
<rect x="606.9" y="137.00" width="39.9" height="1.00" fill="rgb(160,200,133)"/>
<rect x="606.9" y="138.00" width="39.9" height="1.00" fill="rgb(207,227,193)"/>
<rect x="606.9" y="139.00" width="39.9" height="1.00" fill="rgb(157,199,129)"/>
<rect x="606.9" y="140.00" width="39.9" height="1.00" fill="rgb(202,224,187)"/>
<rect x="606.9" y="141.00" width="39.9" height="1.00" fill="rgb(148,194,118)"/>
<rect x="606.9" y="142.00" width="39.9" height="1.00" fill="rgb(184,214,164)"/>
<rect x="606.9" y="143.00" width="39.9" height="1.00" fill="rgb(136,187,102)"/>
<rect x="606.9" y="144.00" width="39.9" height="1.00" fill="rgb(161,201,134)"/>
<rect x="606.9" y="145.00" width="39.9" height="1.00" fill="rgb(123,179,85)"/>
<rect x="606.9" y="146.00" width="39.9" height="1.00" fill="rgb(140,189,106)"/>
<rect x="606.9" y="147.00" width="39.9" height="1.00" fill="rgb(115,175,75)"/>
<rect x="606.9" y="148.00" width="39.9" height="1.00" fill="rgb(131,184,95)"/>
<rect x="606.9" y="149.00" width="39.9" height="1.00" fill="rgb(124,180,87)"/>
<rect x="606.9" y="150.00" width="39.9" height="1.00" fill="rgb(138,188,104)"/>
<rect x="606.9" y="151.00" width="39.9" height="1.00" fill="rgb(148,193,117)"/>
<rect x="606.9" y="152.00" width="39.9" height="1.00" fill="rgb(147,193,116)"/>
<rect x="606.9" y="153.00" width="39.9" height="1.00" fill="rgb(175,209,152)"/>
<rect x="606.9" y="154.00" width="39.9" height="1.00" fill="rgb(156,198,128)"/>
<rect x="606.9" y="155.00" width="39.9" height="1.00" fill="rgb(197,222,180)"/>
<rect x="606.9" y="156.00" width="39.9" height="1.00" fill="rgb(160,200,133)"/>
<rect x="606.9" y="157.00" width="39.9" height="1.00" fill="rgb(207,227,193)"/>
<rect x="606.9" y="158.00" width="39.9" height="1.00" fill="rgb(157,199,129)"/>
<rect x="606.9" y="159.00" width="39.9" height="1.00" fill="rgb(202,224,187)"/>
<rect x="606.9" y="160.00" width="39.9" height="1.00" fill="rgb(148,194,118)"/>
<rect x="606.9" y="161.00" width="39.9" height="1.00" fill="rgb(184,214,164)"/>
<rect x="606.9" y="162.00" width="39.9" height="1.00" fill="rgb(136,187,102)"/>
<rect x="606.9" y="163.00" width="39.9" height="1.00" fill="rgb(161,201,134)"/>
<rect x="606.9" y="164.00" width="39.9" height="1.00" fill="rgb(123,179,85)"/>
<rect x="606.9" y="165.00" width="39.9" height="1.00" fill="rgb(140,189,106)"/>
<rect x="606.9" y="166.00" width="39.9" height="1.00" fill="rgb(115,175,75)"/>
<rect x="606.9" y="167.00" width="39.9" height="1.00" fill="rgb(131,184,95)"/>
<rect x="606.9" y="168.00" width="39.9" height="1.00" fill="rgb(124,180,87)"/>
<rect x="606.9" y="169.00" width="39.9" height="1.00" fill="rgb(138,188,104)"/>
<rect x="606.9" y="170.00" width="39.9" height="1.00" fill="rgb(148,193,117)"/>
<rect x="606.9" y="171.00" width="39.9" height="1.00" fill="rgb(147,193,116)"/>
<rect x="606.9" y="172.00" width="39.9" height="1.00" fill="rgb(175,209,152)"/>
<rect x="606.9" y="173.00" width="39.9" height="1.00" fill="rgb(156,198,128)"/>
<rect x="606.9" y="174.00" width="39.9" height="1.00" fill="rgb(197,222,180)"/>
<rect x="606.9" y="175.00" width="39.9" height="1.00" fill="rgb(160,200,133)"/>
<rect x="606.9" y="176.00" width="39.9" height="1.00" fill="rgb(207,227,193)"/>
<rect x="606.9" y="177.00" width="39.9" height="1.00" fill="rgb(157,199,129)"/>
<rect x="606.9" y="178.00" width="39.9" height="1.00" fill="rgb(202,224,187)"/>
<rect x="606.9" y="179.00" width="39.9" height="1.00" fill="rgb(148,194,118)"/>
<rect x="606.9" y="180.00" width="39.9" height="1.00" fill="rgb(184,214,164)"/>
<rect x="606.9" y="181.00" width="39.9" height="1.00" fill="rgb(136,187,102)"/>
<rect x="606.9" y="182.00" width="39.9" height="1.00" fill="rgb(161,201,134)"/>
<rect x="606.9" y="183.00" width="39.9" height="1.00" fill="rgb(123,179,85)"/>
<rect x="606.9" y="184.00" width="39.9" height="1.00" fill="rgb(140,189,106)"/>
<rect x="606.9" y="185.00" width="39.9" height="1.00" fill="rgb(115,175,75)"/>
<rect x="606.9" y="186.00" width="39.9" height="1.00" fill="rgb(131,184,95)"/>
<rect x="606.9" y="187.00" width="39.9" height="1.00" fill="rgb(124,180,87)"/>
<rect x="606.9" y="188.00" width="39.9" height="1.00" fill="rgb(138,188,104)"/>
<rect x="606.9" y="189.00" width="39.9" height="1.00" fill="rgb(148,193,117)"/>
<rect x="606.9" y="190.00" width="39.9" height="1.00" fill="rgb(147,193,116)"/>
<rect x="606.9" y="191.00" width="39.9" height="1.00" fill="rgb(175,209,152)"/>
<rect x="606.9" y="192.00" width="39.9" height="1.00" fill="rgb(156,198,128)"/>
<rect x="606.9" y="193.00" width="39.9" height="1.00" fill="rgb(197,222,180)"/>
<rect x="606.9" y="194.00" width="39.9" height="1.00" fill="rgb(160,200,133)"/>
<rect x="606.9" y="195.00" width="39.9" height="1.00" fill="rgb(207,227,193)"/>
<rect x="606.9" y="196.00" width="39.9" height="1.00" fill="rgb(157,199,129)"/>
<rect x="606.9" y="197.00" width="39.9" height="1.00" fill="rgb(202,224,187)"/>
<rect x="606.9" y="198.00" width="39.9" height="1.00" fill="rgb(148,194,118)"/>
<rect x="606.9" y="199.00" width="39.9" height="1.00" fill="rgb(184,214,164)"/>
<rect x="606.9" y="200.00" width="39.9" height="1.00" fill="rgb(136,187,102)"/>
<rect x="606.9" y="201.00" width="39.9" height="1.00" fill="rgb(161,201,134)"/>
<rect x="606.9" y="202.00" width="39.9" height="1.00" fill="rgb(123,179,85)"/>
<rect x="606.9" y="203.00" width="39.9" height="1.00" fill="rgb(140,189,106)"/>
<rect x="606.9" y="204.00" width="39.9" height="1.00" fill="rgb(115,175,75)"/>
<rect x="606.9" y="205.00" width="39.9" height="1.00" fill="rgb(131,184,95)"/>
<rect x="606.9" y="206.00" width="39.9" height="1.00" fill="rgb(124,180,87)"/>
<rect x="606.9" y="207.00" width="39.9" height="1.00" fill="rgb(138,188,104)"/>
<rect x="606.9" y="208.00" width="39.9" height="1.00" fill="rgb(148,193,117)"/>
<rect x="606.9" y="209.00" width="39.9" height="1.00" fill="rgb(147,193,116)"/>
<rect x="606.9" y="210.00" width="39.9" height="1.00" fill="rgb(175,209,152)"/>
<rect x="606.9" y="211.00" width="39.9" height="1.00" fill="rgb(156,198,128)"/>
<rect x="606.9" y="212.00" width="39.9" height="1.00" fill="rgb(197,222,180)"/>
<rect x="606.9" y="213.00" width="39.9" height="1.00" fill="rgb(160,200,133)"/>
<rect x="606.9" y="214.00" width="39.9" height="1.00" fill="rgb(207,227,193)"/>
<rect x="606.9" y="215.00" width="39.9" height="1.00" fill="rgb(157,199,129)"/>
<rect x="606.9" y="216.00" width="39.9" height="1.00" fill="rgb(202,224,187)"/>
<rect x="606.9" y="217.00" width="39.9" height="1.00" fill="rgb(148,194,118)"/>
<rect x="606.9" y="218.00" width="39.9" height="1.00" fill="rgb(184,214,164)"/>
<rect x="606.9" y="219.00" width="39.9" height="1.00" fill="rgb(136,187,102)"/>
<rect x="606.9" y="220.00" width="39.9" height="1.00" fill="rgb(161,201,134)"/>
<rect x="606.9" y="221.00" width="39.9" height="1.00" fill="rgb(123,179,85)"/>
<rect x="606.9" y="222.00" width="39.9" height="1.00" fill="rgb(140,189,106)"/>
<rect x="606.9" y="223.00" width="39.9" height="1.00" fill="rgb(115,175,75)"/>
<rect x="606.9" y="224.00" width="39.9" height="1.00" fill="rgb(131,184,95)"/>
<rect x="606.9" y="225.00" width="39.9" height="1.00" fill="rgb(124,180,87)"/>
<rect x="606.9" y="226.00" width="39.9" height="1.00" fill="rgb(138,188,104)"/>
<rect x="606.9" y="227.00" width="39.9" height="1.00" fill="rgb(148,193,117)"/>
<rect x="606.9" y="228.00" width="39.9" height="1.00" fill="rgb(147,193,116)"/>
<rect x="606.9" y="229.00" width="39.9" height="1.00" fill="rgb(175,209,152)"/>
<rect x="606.9" y="230.00" width="39.9" height="1.00" fill="rgb(156,198,128)"/>
<rect x="606.9" y="231.00" width="39.9" height="1.00" fill="rgb(197,222,180)"/>
<rect x="606.9" y="232.00" width="39.9" height="1.00" fill="rgb(160,200,133)"/>
<rect x="606.9" y="233.00" width="39.9" height="1.00" fill="rgb(207,227,193)"/>
<rect x="606.9" y="234.00" width="39.9" height="1.00" fill="rgb(157,199,129)"/>
<rect x="606.9" y="235.00" width="39.9" height="1.00" fill="rgb(202,224,187)"/>
<rect x="606.9" y="236.00" width="39.9" height="1.00" fill="rgb(148,194,118)"/>
<rect x="606.9" y="237.00" width="39.9" height="1.00" fill="rgb(184,214,164)"/>
<rect x="606.9" y="238.00" width="39.9" height="1.00" fill="rgb(136,187,102)"/>
<rect x="606.9" y="239.00" width="39.9" height="1.00" fill="rgb(161,201,134)"/>
<rect x="606.9" y="240.00" width="39.9" height="1.00" fill="rgb(123,179,85)"/>
<rect x="606.9" y="241.00" width="39.9" height="1.00" fill="rgb(140,189,106)"/>
<rect x="606.9" y="242.00" width="39.9" height="1.00" fill="rgb(115,175,75)"/>
<rect x="606.9" y="243.00" width="39.9" height="1.00" fill="rgb(131,184,95)"/>
<rect x="606.9" y="244.00" width="39.9" height="1.00" fill="rgb(124,180,87)"/>
<rect x="606.9" y="245.00" width="39.9" height="1.00" fill="rgb(138,188,104)"/>
<rect x="606.9" y="246.00" width="39.9" height="1.00" fill="rgb(148,193,117)"/>
<rect x="606.9" y="247.00" width="39.9" height="1.00" fill="rgb(147,193,116)"/>
<rect x="606.9" y="248.00" width="39.9" height="1.00" fill="rgb(175,209,152)"/>
<rect x="606.9" y="249.00" width="39.9" height="1.00" fill="rgb(156,198,128)"/>
<rect x="606.9" y="250.00" width="39.9" height="1.00" fill="rgb(197,222,180)"/>
<rect x="606.9" y="251.00" width="39.9" height="1.00" fill="rgb(160,200,133)"/>
<rect x="606.9" y="252.00" width="39.9" height="1.00" fill="rgb(207,227,193)"/>
<rect x="606.9" y="253.00" width="39.9" height="1.00" fill="rgb(157,199,129)"/>
<rect x="606.9" y="254.00" width="39.9" height="1.00" fill="rgb(202,224,187)"/>
<rect x="606.9" y="255.00" width="39.9" height="1.00" fill="rgb(148,194,118)"/>
<rect x="606.9" y="256.00" width="39.9" height="1.00" fill="rgb(184,214,164)"/>
<rect x="606.9" y="257.00" width="39.9" height="1.00" fill="rgb(136,187,102)"/>
<rect x="606.9" y="258.00" width="39.9" height="1.00" fill="rgb(161,201,134)"/>
<rect x="606.9" y="259.00" width="39.9" height="1.00" fill="rgb(123,179,85)"/>
<rect x="606.9" y="260.00" width="39.9" height="1.00" fill="rgb(140,189,106)"/>
<rect x="606.9" y="261.00" width="39.9" height="1.00" fill="rgb(115,175,75)"/>
<rect x="606.9" y="262.00" width="39.9" height="1.00" fill="rgb(131,184,95)"/>
<rect x="606.9" y="263.00" width="39.9" height="1.00" fill="rgb(124,180,87)"/>
<rect x="606.9" y="264.00" width="39.9" height="1.00" fill="rgb(138,188,104)"/>
<rect x="606.9" y="265.00" width="39.9" height="1.00" fill="rgb(148,193,117)"/>
<rect x="606.9" y="266.00" width="39.9" height="1.00" fill="rgb(147,193,116)"/>
<rect x="606.9" y="267.00" width="39.9" height="1.00" fill="rgb(175,209,152)"/>
<rect x="606.9" y="268.00" width="39.9" height="1.00" fill="rgb(156,198,128)"/>
<rect x="606.9" y="269.00" width="39.9" height="1.00" fill="rgb(197,222,180)"/>
<rect x="606.9" y="270.00" width="39.9" height="1.00" fill="rgb(160,200,133)"/>
<rect x="606.9" y="271.00" width="39.9" height="1.00" fill="rgb(207,227,193)"/>
<rect x="606.9" y="272.00" width="39.9" height="1.00" fill="rgb(157,199,129)"/>
<rect x="606.9" y="273.00" width="39.9" height="1.00" fill="rgb(202,224,187)"/>
<rect x="606.9" y="274.00" width="39.9" height="1.00" fill="rgb(148,194,118)"/>
<rect x="606.9" y="275.00" width="39.9" height="1.00" fill="rgb(184,214,164)"/>
<rect x="606.9" y="276.00" width="39.9" height="1.00" fill="rgb(136,187,102)"/>
<rect x="606.9" y="277.00" width="39.9" height="1.00" fill="rgb(161,201,134)"/>
<rect x="606.9" y="278.00" width="39.9" height="1.00" fill="rgb(123,179,85)"/>
<rect x="606.9" y="279.00" width="39.9" height="1.00" fill="rgb(140,189,106)"/>
<rect x="606.9" y="280.00" width="39.9" height="1.00" fill="rgb(115,175,75)"/>
<rect x="606.9" y="281.00" width="39.9" height="1.00" fill="rgb(131,184,95)"/>
<rect x="606.9" y="282.00" width="39.9" height="1.00" fill="rgb(124,180,87)"/>
<rect x="606.9" y="283.00" width="39.9" height="1.00" fill="rgb(138,188,104)"/>
<rect x="606.9" y="284.00" width="39.9" height="1.00" fill="rgb(148,193,117)"/>
<rect x="606.9" y="285.00" width="39.9" height="1.00" fill="rgb(147,193,116)"/>
<rect x="606.9" y="286.00" width="39.9" height="1.00" fill="rgb(175,209,152)"/>
<rect x="606.9" y="287.00" width="39.9" height="1.00" fill="rgb(156,198,128)"/>
<rect x="606.9" y="288.00" width="39.9" height="1.00" fill="rgb(197,222,180)"/>
<rect x="606.9" y="289.00" width="39.9" height="1.00" fill="rgb(160,200,133)"/>
<rect x="606.9" y="290.00" width="39.9" height="1.00" fill="rgb(207,227,193)"/>
<rect x="606.9" y="291.00" width="39.9" height="1.00" fill="rgb(157,199,129)"/>
<rect x="606.9" y="292.00" width="39.9" height="1.00" fill="rgb(202,224,187)"/>
<rect x="606.9" y="293.00" width="39.9" height="1.00" fill="rgb(148,194,118)"/>
<rect x="606.9" y="294.00" width="39.9" height="1.00" fill="rgb(184,214,164)"/>
<rect x="606.9" y="295.00" width="39.9" height="1.00" fill="rgb(136,187,102)"/>
<rect x="606.9" y="296.00" width="39.9" height="1.00" fill="rgb(161,201,134)"/>
<rect x="606.9" y="297.00" width="39.9" height="1.00" fill="rgb(123,179,85)"/>
<rect x="606.9" y="298.00" width="39.9" height="1.00" fill="rgb(140,189,106)"/>
<rect x="606.9" y="299.00" width="39.9" height="1.00" fill="rgb(115,175,75)"/>
<rect x="606.9" y="300.00" width="39.9" height="1.00" fill="rgb(131,184,95)"/>
<rect x="606.9" y="301.00" width="39.9" height="1.00" fill="rgb(124,180,87)"/>
<rect x="606.9" y="302.00" width="39.9" height="1.00" fill="rgb(138,188,104)"/>
<rect x="606.9" y="303.00" width="39.9" height="1.00" fill="rgb(148,193,117)"/>
<rect x="606.9" y="304.00" width="39.9" height="1.00" fill="rgb(147,193,116)"/>
<rect x="606.9" y="305.00" width="39.9" height="1.00" fill="rgb(175,209,152)"/>
<rect x="606.9" y="306.00" width="39.9" height="1.00" fill="rgb(156,198,128)"/>
<rect x="606.9" y="307.00" width="39.9" height="1.00" fill="rgb(197,222,180)"/>
<rect x="606.9" y="308.00" width="39.9" height="1.00" fill="rgb(160,200,133)"/>
<rect x="606.9" y="309.00" width="39.9" height="1.00" fill="rgb(207,227,193)"/></g>
</g>
<line x1="63.4" y1="53.8" x2="63.4" y2="310.8" stroke="#4a4a4a" stroke-width="1.1"/>
<line x1="62.9" y1="310.4" x2="680.5" y2="310.4" stroke="#444" stroke-width="1.1"/>
<g><text x="47.2" y="316.2" text-anchor="end">74</text><text x="47.2" y="284.2" text-anchor="end">76</text><text x="47.2" y="252.2" text-anchor="end">78</text><text x="47.2" y="220.2" text-anchor="end">80</text><text x="47.2" y="188.2" text-anchor="end">82</text><text x="47.2" y="156.2" text-anchor="end">84</text><text x="47.2" y="124.2" text-anchor="end">86</text><text x="47.2" y="92.2" text-anchor="end">88</text><text x="47.2" y="60.2" text-anchor="end">90</text></g>
<g class="cat"><text x="140.1" y="337.9" text-anchor="middle">GWO</text><text x="294.3" y="337.9" text-anchor="middle">FFOA</text><text x="448.5" y="337.9" text-anchor="middle">BOA</text><text x="602.6" y="337.9" text-anchor="middle">CSBOA</text></g>
<text x="371.5" y="364.6" text-anchor="middle">Optimization models</text>
<text transform="translate(18.2,181.4) rotate(-90)" text-anchor="middle" style="font-size:18.85px">Range (%)</text>
<rect x="240.1" y="5.6" width="198.1" height="30.6" fill="#fff" stroke="#000" stroke-width="1.5"/>
<rect x="257.6" y="15.5" width="9.6" height="9.9" fill="rgb(255,194,8)"/><rect x="257.6" y="17.3" width="9.6" height="0.8" fill="#fff" fill-opacity="0.4"/><rect x="257.6" y="19.2" width="9.6" height="0.8" fill="#fff" fill-opacity="0.4"/><rect x="257.6" y="20.9" width="9.6" height="0.8" fill="#fff" fill-opacity="0.4"/><rect x="257.6" y="22.6" width="9.6" height="0.8" fill="#fff" fill-opacity="0.4"/>
<text x="271.7" y="26.2">Precision</text>
<rect x="362.4" y="15.5" width="9.7" height="9.9" fill="rgb(114,175,74)"/><rect x="362.4" y="17.6" width="9.7" height="0.8" fill="#fff" fill-opacity="0.4"/><rect x="362.4" y="19.8" width="9.7" height="0.8" fill="#fff" fill-opacity="0.4"/><rect x="362.4" y="21.5" width="9.7" height="0.8" fill="#fff" fill-opacity="0.4"/><rect x="362.4" y="23.1" width="9.7" height="0.8" fill="#fff" fill-opacity="0.4"/>
<text x="376.2" y="26.2">Recall</text>
</svg>
</body></html>
